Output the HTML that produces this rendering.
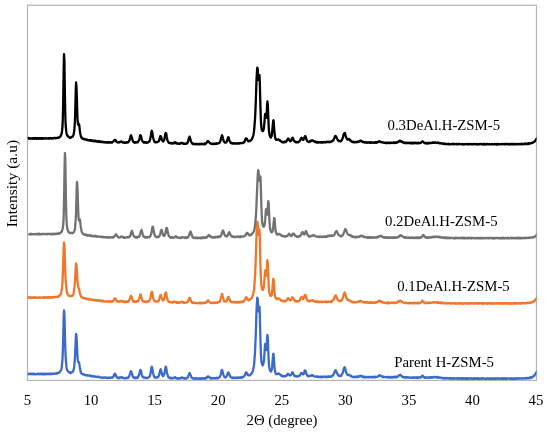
<!DOCTYPE html>
<html><head><meta charset="utf-8"><style>
html,body{margin:0;padding:0;background:#fff;}
svg{display:block;}
text{font-family:"Liberation Serif","Times New Roman",serif;font-size:14.8px;fill:#000;}
</style></head><body>
<svg width="550" height="433" viewBox="0 0 550 433">
<rect x="0" y="0" width="550" height="433" fill="#fff"/>
<defs><clipPath id="pa"><rect x="27.5" y="0" width="509" height="381"/></clipPath></defs>
<rect x="27.5" y="5.2" width="509" height="375.2" fill="none" stroke="#b5b5b5" stroke-width="1.25"/>
<g clip-path="url(#pa)">
<path d="M27.5 374.2 27.8 374.0 28.1 374.1 28.5 374.0 28.8 374.2 29.1 373.6 29.4 374.2 29.7 374.1 30.0 374.2 30.4 373.7 30.7 374.2 31.0 374.2 31.3 373.8 31.6 373.7 31.9 374.2 32.3 373.6 32.6 373.8 32.9 374.1 33.2 373.7 33.5 373.7 33.9 374.3 34.2 373.8 34.5 374.3 34.8 374.0 35.1 374.1 35.4 374.3 35.8 374.1 36.1 374.0 36.4 374.3 36.7 374.1 37.0 373.9 37.4 373.7 37.7 373.9 38.0 374.2 38.3 374.1 38.6 373.7 38.9 374.0 39.3 373.9 39.6 374.3 39.9 373.7 40.2 373.7 40.5 373.7 40.8 374.0 41.2 373.9 41.5 374.2 41.8 373.6 42.1 374.2 42.4 373.6 42.8 374.2 43.1 373.8 43.4 374.2 43.7 374.0 44.0 373.9 44.3 374.3 44.7 373.8 45.0 373.7 45.3 374.2 45.6 373.9 45.9 374.2 46.3 374.2 46.6 373.8 46.9 373.6 47.2 374.0 47.5 374.0 47.8 373.7 48.2 374.0 48.5 373.6 48.8 373.9 49.1 374.0 49.4 374.1 49.7 373.8 50.1 374.0 50.4 374.2 50.7 373.7 51.0 373.5 51.3 373.7 51.7 373.8 52.0 373.8 52.3 374.1 52.6 373.9 52.9 373.9 53.2 373.7 53.6 373.7 53.9 373.9 54.2 373.8 54.5 373.6 54.8 373.5 55.1 373.3 55.5 373.6 55.8 373.6 56.1 373.4 56.4 373.6 56.7 373.1 57.1 373.6 57.4 373.1 57.7 372.9 58.0 373.1 58.3 373.0 58.6 372.7 59.0 372.5 59.3 372.5 59.6 372.5 59.9 371.5 60.2 371.1 60.6 370.7 60.9 370.4 61.2 369.6 61.5 368.5 61.8 366.6 62.1 363.4 62.5 359.1 62.8 351.8 63.1 342.6 63.4 330.1 63.7 317.4 64.0 310.5 64.4 313.7 64.7 324.9 65.0 337.4 65.3 348.4 65.6 356.4 66.0 361.7 66.3 365.4 66.6 367.9 66.9 369.3 67.2 370.0 67.5 370.7 67.9 371.2 68.2 371.5 68.5 371.7 68.8 372.1 69.1 372.3 69.5 372.7 69.8 372.8 70.1 372.4 70.4 373.0 70.7 373.0 71.0 372.4 71.4 372.8 71.7 372.4 72.0 372.2 72.3 372.2 72.6 371.9 72.9 371.4 73.3 371.1 73.6 369.7 73.9 368.7 74.2 366.4 74.5 363.2 74.9 358.8 75.2 352.5 75.5 345.4 75.8 337.5 76.1 334.0 76.4 335.4 76.8 341.7 77.1 348.9 77.4 354.7 77.7 359.2 78.0 361.0 78.3 362.2 78.7 362.1 79.0 362.3 79.3 363.8 79.6 365.9 79.9 367.9 80.3 369.8 80.6 371.6 80.9 372.6 81.2 372.5 81.5 373.0 81.8 373.9 82.2 373.9 82.5 374.2 82.8 374.1 83.1 374.4 83.4 374.2 83.8 374.6 84.1 374.5 84.4 374.9 84.7 374.8 85.0 374.9 85.3 375.3 85.7 375.2 86.0 375.2 86.3 375.4 86.6 375.3 86.9 375.0 87.2 375.6 87.6 375.2 87.9 375.5 88.2 375.7 88.5 375.7 88.8 375.6 89.2 375.5 89.5 375.7 89.8 375.7 90.1 375.5 90.4 375.7 90.7 376.3 91.1 375.7 91.4 376.0 91.7 376.2 92.0 376.2 92.3 376.5 92.7 376.5 93.0 376.6 93.3 376.1 93.6 376.3 93.9 376.5 94.2 376.4 94.6 376.4 94.9 376.4 95.2 376.7 95.5 376.8 95.8 376.6 96.1 376.7 96.5 376.8 96.8 376.9 97.1 377.0 97.4 376.8 97.7 376.7 98.1 376.9 98.4 376.8 98.7 376.7 99.0 376.7 99.3 377.0 99.6 377.2 100.0 377.4 100.3 377.5 100.6 377.3 100.9 377.4 101.2 377.6 101.6 377.6 101.9 377.7 102.2 377.4 102.5 377.7 102.8 377.9 103.1 377.7 103.5 377.6 103.8 377.5 104.1 377.4 104.4 377.7 104.7 377.6 105.0 377.5 105.4 377.4 105.7 377.7 106.0 377.4 106.3 377.6 106.6 377.8 107.0 378.1 107.3 378.0 107.6 377.6 107.9 377.7 108.2 377.7 108.5 377.8 108.9 377.9 109.2 377.5 109.5 377.7 109.8 378.0 110.1 377.9 110.4 377.7 110.8 377.8 111.1 377.6 111.4 377.6 111.7 377.7 112.0 377.3 112.4 377.5 112.7 377.5 113.0 377.0 113.3 376.7 113.6 376.0 113.9 375.6 114.3 374.4 114.6 373.9 114.9 373.6 115.2 374.2 115.5 374.5 115.9 375.1 116.2 376.3 116.5 376.9 116.8 377.2 117.1 377.1 117.4 377.5 117.8 378.1 118.1 378.1 118.4 377.6 118.7 377.8 119.0 377.7 119.3 378.1 119.7 377.4 120.0 377.8 120.3 377.5 120.6 377.4 120.9 377.4 121.3 377.1 121.6 377.2 121.9 377.7 122.2 377.5 122.5 377.5 122.8 377.9 123.2 377.7 123.5 378.0 123.8 378.0 124.1 378.3 124.4 378.4 124.8 378.2 125.1 378.3 125.4 378.1 125.7 377.9 126.0 377.8 126.3 378.0 126.7 378.1 127.0 378.2 127.3 377.7 127.6 378.0 127.9 377.9 128.2 377.7 128.6 377.1 128.9 376.6 129.2 376.4 129.5 375.3 129.8 374.4 130.2 373.4 130.5 372.3 130.8 371.2 131.1 371.6 131.4 372.0 131.7 372.9 132.1 374.0 132.4 375.3 132.7 375.9 133.0 377.1 133.3 377.1 133.6 377.6 134.0 377.7 134.3 377.8 134.6 377.4 134.9 378.0 135.2 378.0 135.6 377.5 135.9 378.0 136.2 377.5 136.5 377.5 136.8 377.7 137.1 377.9 137.5 377.4 137.8 377.7 138.1 376.9 138.4 376.4 138.7 375.6 139.1 374.9 139.4 374.1 139.7 372.2 140.0 371.0 140.3 369.9 140.6 369.9 141.0 370.7 141.3 372.2 141.6 373.8 141.9 375.0 142.2 376.0 142.5 376.7 142.9 377.0 143.2 377.2 143.5 377.2 143.8 377.6 144.1 377.4 144.5 377.8 144.8 377.8 145.1 377.8 145.4 377.6 145.7 378.0 146.0 377.7 146.4 377.8 146.7 377.9 147.0 377.9 147.3 378.1 147.6 377.9 148.0 377.5 148.3 377.5 148.6 377.6 148.9 377.1 149.2 376.9 149.5 376.5 149.9 375.7 150.2 374.9 150.5 373.3 150.8 371.5 151.1 369.8 151.4 367.4 151.8 366.8 152.1 367.1 152.4 369.0 152.7 370.9 153.0 372.7 153.4 374.2 153.7 375.6 154.0 376.2 154.3 376.3 154.6 377.3 154.9 377.6 155.3 377.7 155.6 377.7 155.9 377.3 156.2 377.5 156.5 377.3 156.8 377.3 157.2 377.6 157.5 377.5 157.8 377.4 158.1 376.6 158.4 376.2 158.8 376.0 159.1 374.7 159.4 374.0 159.7 372.3 160.0 371.2 160.3 370.0 160.7 369.3 161.0 370.4 161.3 371.1 161.6 372.7 161.9 373.7 162.3 375.1 162.6 375.5 162.9 376.0 163.2 376.2 163.5 375.7 163.8 375.0 164.2 374.3 164.5 372.7 164.8 371.4 165.1 369.5 165.4 367.9 165.7 366.6 166.1 367.2 166.4 368.9 166.7 371.1 167.0 372.9 167.3 374.0 167.7 375.2 168.0 376.6 168.3 376.8 168.6 377.3 168.9 377.2 169.2 377.6 169.6 378.1 169.9 378.2 170.2 378.2 170.5 378.4 170.8 377.7 171.2 377.8 171.5 378.0 171.8 378.3 172.1 378.0 172.4 377.9 172.7 378.4 173.1 377.8 173.4 377.9 173.7 377.8 174.0 377.9 174.3 377.9 174.6 377.7 175.0 377.1 175.3 377.7 175.6 377.3 175.9 378.1 176.2 378.3 176.6 378.3 176.9 378.1 177.2 378.5 177.5 378.3 177.8 378.6 178.1 378.7 178.5 378.5 178.8 378.2 179.1 378.4 179.4 378.6 179.7 378.1 180.1 378.2 180.4 378.4 180.7 378.0 181.0 378.0 181.3 377.6 181.6 377.7 182.0 377.3 182.3 377.4 182.6 377.9 182.9 378.0 183.2 378.2 183.5 378.1 183.9 378.5 184.2 378.3 184.5 378.1 184.8 378.3 185.1 378.6 185.5 378.3 185.8 378.5 186.1 378.0 186.4 378.3 186.7 378.1 187.0 378.1 187.4 377.6 187.7 377.6 188.0 376.6 188.3 375.9 188.6 375.3 188.9 374.3 189.3 373.5 189.6 373.0 189.9 373.6 190.2 374.5 190.5 375.2 190.9 375.7 191.2 376.4 191.5 377.5 191.8 377.5 192.1 378.0 192.4 378.1 192.8 378.3 193.1 378.6 193.4 378.4 193.7 378.5 194.0 378.7 194.4 378.7 194.7 378.7 195.0 378.2 195.3 378.6 195.6 378.7 195.9 378.3 196.3 378.2 196.6 378.6 196.9 378.5 197.2 378.9 197.5 378.9 197.8 378.6 198.2 378.4 198.5 378.3 198.8 378.6 199.1 378.6 199.4 378.4 199.8 378.8 200.1 378.5 200.4 378.6 200.7 378.8 201.0 378.4 201.3 378.8 201.7 378.2 202.0 378.7 202.3 378.7 202.6 378.5 202.9 378.6 203.3 378.4 203.6 378.6 203.9 378.2 204.2 378.1 204.5 378.6 204.8 378.5 205.2 378.6 205.5 378.5 205.8 378.0 206.1 377.8 206.4 378.2 206.7 377.3 207.1 377.6 207.4 376.7 207.7 376.9 208.0 376.3 208.3 376.3 208.7 376.6 209.0 377.1 209.3 377.2 209.6 377.6 209.9 377.8 210.2 378.2 210.6 378.4 210.9 377.9 211.2 378.3 211.5 378.5 211.8 378.0 212.1 378.5 212.5 378.1 212.8 378.0 213.1 378.1 213.4 378.2 213.7 378.3 214.1 378.1 214.4 378.1 214.7 378.4 215.0 378.0 215.3 378.1 215.6 378.5 216.0 378.4 216.3 378.3 216.6 377.8 216.9 378.0 217.2 378.4 217.6 378.2 217.9 377.9 218.2 378.0 218.5 377.8 218.8 377.5 219.1 377.2 219.5 377.3 219.8 376.9 220.1 376.0 220.4 375.4 220.7 374.5 221.0 373.4 221.4 371.6 221.7 370.4 222.0 369.9 222.3 370.5 222.6 371.9 223.0 372.8 223.3 374.6 223.6 375.4 223.9 376.0 224.2 376.3 224.5 377.2 224.9 377.3 225.2 377.4 225.5 377.4 225.8 377.3 226.1 376.9 226.5 376.5 226.8 376.0 227.1 375.0 227.4 374.0 227.7 373.5 228.0 372.8 228.4 372.4 228.7 372.7 229.0 373.6 229.3 374.2 229.6 375.7 229.9 375.8 230.3 376.3 230.6 377.2 230.9 377.2 231.2 377.3 231.5 377.3 231.9 377.8 232.2 377.4 232.5 378.1 232.8 377.6 233.1 377.8 233.4 377.6 233.8 377.6 234.1 378.0 234.4 377.8 234.7 377.8 235.0 377.7 235.3 377.9 235.7 377.7 236.0 377.9 236.3 377.8 236.6 377.5 236.9 377.5 237.3 378.1 237.6 377.6 237.9 377.7 238.2 377.7 238.5 377.5 238.8 377.4 239.2 377.3 239.5 377.8 239.8 377.7 240.1 377.8 240.4 377.6 240.8 377.2 241.1 377.2 241.4 377.7 241.7 377.3 242.0 377.6 242.3 377.0 242.7 377.0 243.0 377.1 243.3 377.0 243.6 376.6 243.9 376.7 244.2 375.9 244.6 375.4 244.9 375.3 245.2 374.3 245.5 373.2 245.8 372.4 246.2 372.3 246.5 372.3 246.8 373.3 247.1 373.5 247.4 374.5 247.7 375.0 248.1 375.2 248.4 375.0 248.7 375.3 249.0 375.4 249.3 375.4 249.7 375.1 250.0 375.3 250.3 374.6 250.6 374.7 250.9 374.2 251.2 374.1 251.6 373.3 251.9 373.1 252.2 372.6 252.5 371.7 252.8 371.2 253.1 370.1 253.5 368.1 253.8 366.4 254.1 364.3 254.4 360.4 254.7 356.4 255.1 351.1 255.4 343.8 255.7 336.3 256.0 327.3 256.3 317.8 256.6 308.9 257.0 301.7 257.3 297.6 257.6 298.5 257.9 301.8 258.2 307.1 258.5 311.1 258.9 311.7 259.2 308.6 259.5 306.8 259.8 313.5 260.1 327.3 260.5 341.5 260.8 351.0 261.1 357.1 261.4 360.8 261.7 363.0 262.0 363.8 262.4 364.8 262.7 365.3 263.0 364.8 263.3 363.9 263.6 362.8 264.0 359.9 264.3 356.2 264.6 351.2 264.9 346.5 265.2 343.8 265.5 345.1 265.9 347.8 266.2 350.1 266.5 348.6 266.8 344.5 267.1 338.4 267.4 334.9 267.8 337.9 268.1 345.5 268.4 353.7 268.7 360.4 269.0 365.1 269.4 368.2 269.7 369.3 270.0 370.2 270.3 371.0 270.6 371.3 270.9 371.5 271.3 371.2 271.6 369.9 271.9 368.9 272.2 366.2 272.5 362.0 272.9 357.6 273.2 354.2 273.5 353.7 273.8 357.1 274.1 361.8 274.4 366.4 274.8 369.4 275.1 371.6 275.4 372.6 275.7 373.3 276.0 374.2 276.3 373.8 276.7 374.0 277.0 374.1 277.3 374.0 277.6 374.0 277.9 373.6 278.3 373.5 278.6 373.9 278.9 373.5 279.2 373.8 279.5 374.2 279.8 374.5 280.2 374.5 280.5 374.9 280.8 375.4 281.1 375.2 281.4 375.5 281.8 376.1 282.1 375.6 282.4 375.8 282.7 376.2 283.0 376.5 283.3 376.1 283.7 376.4 284.0 376.1 284.3 376.1 284.6 376.1 284.9 376.0 285.2 376.4 285.6 376.0 285.9 375.9 286.2 375.9 286.5 375.9 286.8 374.9 287.2 375.0 287.5 374.0 287.8 373.7 288.1 373.9 288.4 373.9 288.7 374.6 289.1 374.6 289.4 375.2 289.7 375.2 290.0 375.6 290.3 375.6 290.6 375.4 291.0 375.0 291.3 374.3 291.6 373.7 291.9 372.8 292.2 372.6 292.6 372.4 292.9 372.6 293.2 373.1 293.5 374.3 293.8 374.7 294.1 375.5 294.5 375.4 294.8 376.2 295.1 376.1 295.4 376.2 295.7 376.0 296.1 376.1 296.4 376.6 296.7 376.7 297.0 376.3 297.3 376.2 297.6 376.4 298.0 376.3 298.3 376.1 298.6 376.1 298.9 376.2 299.2 375.7 299.5 375.6 299.9 375.6 300.2 374.7 300.5 374.0 300.8 373.5 301.1 373.1 301.5 372.8 301.8 372.8 302.1 373.2 302.4 374.1 302.7 374.1 303.0 374.4 303.4 374.3 303.7 373.9 304.0 373.1 304.3 372.0 304.6 370.7 305.0 370.4 305.3 370.4 305.6 371.0 305.9 372.2 306.2 372.8 306.5 374.1 306.9 374.8 307.2 375.3 307.5 375.7 307.8 376.2 308.1 375.9 308.4 376.0 308.8 375.9 309.1 376.2 309.4 376.3 309.7 376.0 310.0 376.1 310.4 376.0 310.7 375.5 311.0 375.9 311.3 375.6 311.6 375.3 311.9 375.5 312.3 375.1 312.6 375.2 312.9 375.7 313.2 375.6 313.5 376.0 313.8 376.1 314.2 376.3 314.5 376.4 314.8 376.6 315.1 376.6 315.4 376.7 315.8 376.7 316.1 376.4 316.4 376.6 316.7 376.6 317.0 376.5 317.3 376.9 317.7 376.4 318.0 376.9 318.3 377.0 318.6 376.7 318.9 376.6 319.3 377.0 319.6 377.0 319.9 376.9 320.2 376.6 320.5 376.6 320.8 377.2 321.2 376.8 321.5 377.0 321.8 376.6 322.1 377.0 322.4 377.1 322.7 377.0 323.1 376.8 323.4 377.0 323.7 376.7 324.0 376.5 324.3 376.6 324.7 376.5 325.0 376.8 325.3 376.6 325.6 377.2 325.9 377.0 326.2 376.7 326.6 376.6 326.9 377.0 327.2 377.1 327.5 377.0 327.8 376.5 328.2 376.9 328.5 376.7 328.8 376.9 329.1 376.4 329.4 376.8 329.7 376.6 330.1 376.7 330.4 376.4 330.7 376.8 331.0 376.2 331.3 376.6 331.6 376.4 332.0 375.8 332.3 375.7 332.6 375.8 332.9 375.4 333.2 374.9 333.6 374.0 333.9 373.6 334.2 373.2 334.5 371.8 334.8 371.6 335.1 370.9 335.5 370.2 335.8 370.3 336.1 370.9 336.4 371.6 336.7 372.4 337.0 373.2 337.4 374.0 337.7 374.2 338.0 375.0 338.3 375.0 338.6 375.8 339.0 375.7 339.3 376.0 339.6 375.7 339.9 375.7 340.2 376.1 340.5 376.1 340.9 375.6 341.2 375.8 341.5 375.2 341.8 374.4 342.1 374.4 342.5 373.5 342.8 372.6 343.1 371.9 343.4 370.3 343.7 368.9 344.0 368.0 344.4 367.5 344.7 367.3 345.0 367.8 345.3 369.2 345.6 370.2 345.9 371.6 346.3 372.4 346.6 373.4 346.9 374.0 347.2 374.5 347.5 374.7 347.9 375.0 348.2 374.8 348.5 374.8 348.8 374.6 349.1 374.9 349.4 374.8 349.8 375.6 350.1 375.7 350.4 375.5 350.7 375.7 351.0 376.3 351.4 376.4 351.7 376.2 352.0 376.5 352.3 376.6 352.6 377.0 352.9 377.0 353.3 376.8 353.6 376.8 353.9 377.0 354.2 376.7 354.5 376.8 354.8 377.0 355.2 377.2 355.5 376.7 355.8 376.7 356.1 376.7 356.4 376.7 356.8 377.1 357.1 376.9 357.4 376.5 357.7 377.0 358.0 377.0 358.3 376.9 358.7 376.8 359.0 376.1 359.3 376.3 359.6 376.2 359.9 376.2 360.2 375.8 360.6 376.0 360.9 375.7 361.2 376.0 361.5 376.2 361.8 376.5 362.2 376.8 362.5 376.3 362.8 377.0 363.1 376.5 363.4 376.6 363.7 377.2 364.1 376.8 364.4 377.1 364.7 377.3 365.0 376.9 365.3 376.9 365.7 377.3 366.0 377.4 366.3 377.1 366.6 376.8 366.9 377.1 367.2 377.1 367.6 377.4 367.9 377.2 368.2 377.2 368.5 377.1 368.8 377.4 369.1 376.8 369.5 377.2 369.8 377.2 370.1 377.1 370.4 377.0 370.7 377.2 371.1 377.1 371.4 377.4 371.7 377.2 372.0 376.8 372.3 377.4 372.6 376.9 373.0 377.3 373.3 377.0 373.6 377.4 373.9 376.8 374.2 376.9 374.6 377.1 374.9 377.2 375.2 376.7 375.5 377.3 375.8 377.2 376.1 376.8 376.5 376.9 376.8 376.8 377.1 376.6 377.4 376.7 377.7 376.3 378.0 376.4 378.4 376.2 378.7 376.1 379.0 375.8 379.3 375.1 379.6 375.1 380.0 375.7 380.3 375.6 380.6 375.6 380.9 375.9 381.2 376.1 381.5 376.1 381.9 376.4 382.2 376.7 382.5 376.4 382.8 376.5 383.1 377.3 383.4 376.8 383.8 377.0 384.1 377.0 384.4 376.9 384.7 377.2 385.0 377.2 385.4 377.2 385.7 377.1 386.0 376.9 386.3 377.1 386.6 377.3 386.9 377.1 387.3 376.9 387.6 377.2 387.9 376.9 388.2 377.3 388.5 377.0 388.9 377.5 389.2 377.5 389.5 377.0 389.8 377.1 390.1 377.5 390.4 377.4 390.8 377.2 391.1 377.5 391.4 376.9 391.7 377.3 392.0 377.5 392.3 377.3 392.7 377.0 393.0 377.3 393.3 376.9 393.6 376.9 393.9 377.3 394.3 376.9 394.6 377.2 394.9 377.0 395.2 376.8 395.5 377.3 395.8 377.3 396.2 376.8 396.5 377.3 396.8 376.8 397.1 376.7 397.4 376.8 397.8 376.4 398.1 376.5 398.4 375.7 398.7 375.5 399.0 375.4 399.3 375.3 399.7 375.2 400.0 375.3 400.3 374.7 400.6 375.3 400.9 375.3 401.2 375.7 401.6 375.9 401.9 376.3 402.2 376.7 402.5 376.6 402.8 377.1 403.2 376.9 403.5 377.3 403.8 377.3 404.1 377.4 404.4 377.2 404.7 377.4 405.1 377.6 405.4 377.1 405.7 377.4 406.0 377.5 406.3 377.2 406.7 377.7 407.0 377.2 407.3 377.4 407.6 377.2 407.9 377.4 408.2 377.4 408.6 377.2 408.9 377.5 409.2 377.7 409.5 377.3 409.8 377.4 410.1 377.3 410.5 377.6 410.8 377.7 411.1 377.7 411.4 377.6 411.7 377.9 412.1 377.3 412.4 377.4 412.7 377.3 413.0 377.8 413.3 377.9 413.6 377.7 414.0 377.5 414.3 377.3 414.6 377.6 414.9 377.7 415.2 377.5 415.5 377.7 415.9 377.8 416.2 377.8 416.5 377.3 416.8 377.8 417.1 377.6 417.5 378.0 417.8 377.4 418.1 378.0 418.4 377.7 418.7 377.4 419.0 377.5 419.4 377.3 419.7 377.3 420.0 377.2 420.3 377.6 420.6 377.1 421.0 377.2 421.3 377.1 421.6 376.5 421.9 376.1 422.2 375.6 422.5 375.7 422.9 375.8 423.2 376.3 423.5 376.6 423.8 377.2 424.1 376.9 424.4 377.7 424.8 377.5 425.1 377.6 425.4 377.9 425.7 377.9 426.0 377.5 426.4 377.7 426.7 377.4 427.0 377.5 427.3 377.4 427.6 377.8 427.9 377.6 428.3 377.4 428.6 377.6 428.9 377.4 429.2 377.7 429.5 377.3 429.9 377.4 430.2 377.8 430.5 377.6 430.8 377.1 431.1 377.2 431.4 377.7 431.8 377.7 432.1 377.1 432.4 377.6 432.7 377.5 433.0 377.5 433.3 377.0 433.7 377.3 434.0 376.9 434.3 377.0 434.6 377.1 434.9 376.9 435.3 377.4 435.6 377.2 435.9 377.3 436.2 377.1 436.5 377.5 436.8 376.9 437.2 377.3 437.5 377.0 437.8 377.1 438.1 377.3 438.4 377.8 438.7 377.8 439.1 377.3 439.4 377.3 439.7 377.5 440.0 377.6 440.3 377.6 440.7 377.6 441.0 377.7 441.3 378.0 441.6 377.7 441.9 378.1 442.2 378.1 442.6 378.3 442.9 378.3 443.2 378.3 443.5 378.3 443.8 378.0 444.2 378.4 444.5 378.0 444.8 378.5 445.1 378.3 445.4 378.3 445.7 378.2 446.1 378.4 446.4 377.9 446.7 378.1 447.0 378.0 447.3 378.4 447.6 378.4 448.0 378.5 448.3 378.5 448.6 378.4 448.9 378.3 449.2 378.1 449.6 378.1 449.9 378.5 450.2 378.7 450.5 378.2 450.8 378.3 451.1 378.6 451.5 378.1 451.8 378.7 452.1 378.7 452.4 378.2 452.7 378.4 453.1 378.5 453.4 378.1 453.7 378.1 454.0 378.8 454.3 378.2 454.6 378.6 455.0 378.6 455.3 378.6 455.6 378.7 455.9 378.3 456.2 378.4 456.5 378.7 456.9 378.5 457.2 378.6 457.5 378.3 457.8 378.7 458.1 378.6 458.5 378.8 458.8 378.3 459.1 378.5 459.4 378.8 459.7 378.5 460.0 378.6 460.4 378.7 460.7 378.2 461.0 378.3 461.3 378.5 461.6 378.3 461.9 378.8 462.3 378.8 462.6 378.2 462.9 378.8 463.2 378.2 463.5 378.6 463.9 378.4 464.2 378.6 464.5 378.6 464.8 378.2 465.1 378.4 465.4 378.8 465.8 378.2 466.1 378.4 466.4 378.7 466.7 378.5 467.0 378.8 467.4 378.2 467.7 378.8 468.0 378.4 468.3 378.4 468.6 378.2 468.9 378.8 469.3 378.4 469.6 378.6 469.9 378.4 470.2 378.6 470.5 378.5 470.8 378.6 471.2 378.3 471.5 378.2 471.8 378.8 472.1 378.8 472.4 378.8 472.8 378.4 473.1 378.6 473.4 378.9 473.7 378.9 474.0 378.2 474.3 378.6 474.7 378.3 475.0 378.4 475.3 378.4 475.6 378.8 475.9 378.2 476.3 378.4 476.6 378.5 476.9 378.5 477.2 378.4 477.5 378.8 477.8 378.3 478.2 378.8 478.5 378.2 478.8 378.3 479.1 378.7 479.4 378.8 479.7 378.6 480.1 378.7 480.4 378.3 480.7 378.3 481.0 378.5 481.3 378.8 481.7 378.9 482.0 378.2 482.3 378.8 482.6 378.5 482.9 378.3 483.2 378.5 483.6 378.4 483.9 378.6 484.2 378.5 484.5 378.6 484.8 378.7 485.1 378.8 485.5 378.8 485.8 378.9 486.1 378.6 486.4 378.7 486.7 378.9 487.1 378.6 487.4 378.3 487.7 378.6 488.0 378.6 488.3 378.3 488.6 378.3 489.0 378.6 489.3 378.9 489.6 378.6 489.9 378.5 490.2 378.9 490.6 378.5 490.9 378.3 491.2 378.8 491.5 378.8 491.8 378.6 492.1 378.5 492.5 378.4 492.8 378.4 493.1 378.3 493.4 378.9 493.7 378.5 494.0 378.4 494.4 378.4 494.7 378.3 495.0 378.7 495.3 378.3 495.6 378.8 496.0 378.6 496.3 378.7 496.6 378.5 496.9 378.7 497.2 378.4 497.5 378.7 497.9 378.6 498.2 378.3 498.5 378.5 498.8 378.6 499.1 378.8 499.5 378.6 499.8 378.5 500.1 378.4 500.4 378.7 500.7 378.9 501.0 378.9 501.4 378.3 501.7 378.6 502.0 378.9 502.3 378.6 502.6 378.4 502.9 378.3 503.3 378.3 503.6 378.9 503.9 378.3 504.2 378.6 504.5 378.2 504.9 378.7 505.2 378.8 505.5 378.4 505.8 378.4 506.1 378.9 506.4 378.5 506.8 378.9 507.1 378.4 507.4 378.7 507.7 378.3 508.0 378.3 508.4 378.4 508.7 378.4 509.0 378.3 509.3 378.4 509.6 378.8 509.9 378.8 510.3 378.5 510.6 378.7 510.9 378.8 511.2 378.5 511.5 378.4 511.8 378.7 512.2 378.4 512.5 378.8 512.8 378.9 513.1 378.5 513.4 378.6 513.8 378.9 514.1 378.8 514.4 378.3 514.7 378.3 515.0 378.7 515.3 378.3 515.7 378.6 516.0 378.7 516.3 378.8 516.6 378.7 516.9 378.5 517.2 378.2 517.6 378.3 517.9 378.7 518.2 378.6 518.5 378.2 518.8 378.5 519.2 378.7 519.5 378.5 519.8 378.7 520.1 378.7 520.4 378.3 520.7 378.4 521.1 378.4 521.4 378.4 521.7 378.5 522.0 378.5 522.3 378.7 522.7 378.4 523.0 378.4 523.3 378.5 523.6 378.4 523.9 378.2 524.2 378.4 524.6 378.4 524.9 378.4 525.2 378.6 525.5 378.3 525.8 378.0 526.1 378.0 526.5 378.0 526.8 378.4 527.1 378.0 527.4 378.3 527.7 378.2 528.1 378.1 528.4 378.2 528.7 378.1 529.0 378.3 529.3 377.8 529.6 377.5 530.0 378.1 530.3 377.4 530.6 377.8 530.9 377.3 531.2 377.7 531.6 377.2 531.9 377.3 532.2 377.4 532.5 376.8 532.8 376.6 533.1 376.3 533.5 376.2 533.8 376.4 534.1 375.8 534.4 375.3 534.7 374.9 535.0 374.6 535.4 374.1 535.7 373.6 536.0 373.1 536.3 372.4 536.6 371.8 537.0 371.5 537.3 370.7" fill="none" stroke="#3b6acb" stroke-width="2.3" stroke-linejoin="round"/>
<path d="M27.5 297.9 27.8 297.3 28.1 297.6 28.5 297.3 28.8 297.6 29.1 297.5 29.4 297.7 29.7 297.8 30.0 297.5 30.4 297.8 30.7 297.7 31.0 297.3 31.3 297.8 31.6 297.8 31.9 297.8 32.3 297.8 32.6 297.9 32.9 297.6 33.2 297.3 33.5 297.9 33.9 297.2 34.2 297.4 34.5 297.6 34.8 297.7 35.1 297.9 35.4 297.2 35.8 297.5 36.1 297.2 36.4 297.6 36.7 297.8 37.0 297.7 37.4 297.8 37.7 297.9 38.0 297.9 38.3 297.7 38.6 297.4 38.9 297.3 39.3 297.4 39.6 297.6 39.9 297.9 40.2 297.4 40.5 297.7 40.8 297.6 41.2 297.6 41.5 297.5 41.8 297.6 42.1 297.4 42.4 297.6 42.8 297.6 43.1 297.5 43.4 297.3 43.7 297.7 44.0 297.8 44.3 297.5 44.7 297.8 45.0 297.3 45.3 297.5 45.6 297.6 45.9 297.4 46.3 297.5 46.6 297.4 46.9 297.7 47.2 297.8 47.5 297.2 47.8 297.5 48.2 297.4 48.5 297.2 48.8 297.8 49.1 297.7 49.4 297.2 49.7 297.1 50.1 297.4 50.4 297.7 50.7 297.6 51.0 297.1 51.3 297.6 51.7 297.4 52.0 297.6 52.3 297.7 52.6 297.1 52.9 297.1 53.2 297.5 53.6 297.3 53.9 297.2 54.2 297.4 54.5 297.4 54.8 297.1 55.1 296.9 55.5 296.9 55.8 296.9 56.1 296.9 56.4 296.9 56.7 297.0 57.1 296.9 57.4 296.6 57.7 296.6 58.0 296.8 58.3 296.3 58.6 296.6 59.0 295.7 59.3 296.0 59.6 295.6 59.9 295.4 60.2 294.9 60.6 294.3 60.9 293.7 61.2 292.4 61.5 291.2 61.8 289.1 62.1 286.3 62.5 281.7 62.8 274.8 63.1 266.4 63.4 256.6 63.7 247.5 64.0 242.4 64.4 244.6 64.7 252.5 65.0 262.4 65.3 271.9 65.6 279.3 66.0 284.2 66.3 288.0 66.6 290.1 66.9 292.1 67.2 293.1 67.5 294.1 67.9 294.8 68.2 294.8 68.5 295.5 68.8 295.6 69.1 295.8 69.5 296.2 69.8 296.2 70.1 296.0 70.4 296.1 70.7 296.0 71.0 296.0 71.4 296.0 71.7 295.7 72.0 296.0 72.3 295.9 72.6 295.5 72.9 294.9 73.3 294.4 73.6 293.3 73.9 291.5 74.2 289.6 74.5 286.8 74.9 282.7 75.2 277.3 75.5 271.9 75.8 266.7 76.1 263.4 76.4 264.9 76.8 269.0 77.1 274.5 77.4 279.9 77.7 283.3 78.0 285.8 78.3 287.1 78.7 288.0 79.0 288.5 79.3 290.1 79.6 291.9 79.9 293.3 80.3 294.5 80.6 295.4 80.9 296.3 81.2 296.4 81.5 297.4 81.8 297.4 82.2 297.4 82.5 297.4 82.8 298.0 83.1 297.8 83.4 298.2 83.8 298.0 84.1 298.1 84.4 298.1 84.7 298.1 85.0 298.6 85.3 298.2 85.7 298.7 86.0 299.0 86.3 298.8 86.6 298.6 86.9 299.0 87.2 298.8 87.6 298.9 87.9 299.3 88.2 299.2 88.5 299.1 88.8 299.4 89.2 298.9 89.5 299.3 89.8 299.5 90.1 299.7 90.4 299.4 90.7 299.3 91.1 299.6 91.4 299.4 91.7 299.8 92.0 299.7 92.3 300.0 92.7 299.6 93.0 299.6 93.3 300.0 93.6 299.7 93.9 300.2 94.2 300.1 94.6 300.3 94.9 300.5 95.2 300.0 95.5 299.9 95.8 300.2 96.1 300.2 96.5 300.5 96.8 300.2 97.1 300.4 97.4 300.2 97.7 300.7 98.1 300.5 98.4 300.5 98.7 300.6 99.0 300.3 99.3 300.9 99.6 300.6 100.0 300.8 100.3 300.7 100.6 300.7 100.9 301.2 101.2 300.9 101.6 300.9 101.9 301.2 102.2 301.3 102.5 301.3 102.8 300.8 103.1 301.4 103.5 301.2 103.8 301.5 104.1 301.3 104.4 301.3 104.7 301.3 105.0 301.4 105.4 301.5 105.7 301.7 106.0 301.4 106.3 301.4 106.6 301.5 107.0 301.2 107.3 301.6 107.6 301.7 107.9 301.3 108.2 301.5 108.5 301.2 108.9 301.5 109.2 301.5 109.5 301.4 109.8 301.6 110.1 301.4 110.4 301.6 110.8 301.4 111.1 301.4 111.4 301.4 111.7 301.3 112.0 301.7 112.4 301.5 112.7 301.5 113.0 300.9 113.3 300.5 113.6 300.2 113.9 300.0 114.3 299.4 114.6 298.4 114.9 298.3 115.2 298.3 115.5 299.1 115.9 299.3 116.2 300.1 116.5 300.5 116.8 301.3 117.1 301.6 117.4 301.6 117.8 301.5 118.1 301.4 118.4 301.6 118.7 301.7 119.0 301.6 119.3 301.5 119.7 301.4 120.0 301.6 120.3 301.2 120.6 301.2 120.9 300.9 121.3 300.6 121.6 300.8 121.9 301.2 122.2 301.4 122.5 301.7 122.8 301.5 123.2 301.8 123.5 302.0 123.8 301.5 124.1 301.7 124.4 301.9 124.8 302.1 125.1 301.5 125.4 302.1 125.7 301.9 126.0 301.7 126.3 302.1 126.7 301.5 127.0 301.8 127.3 301.6 127.6 301.8 127.9 301.8 128.2 301.3 128.6 300.8 128.9 300.6 129.2 300.1 129.5 299.9 129.8 298.6 130.2 297.7 130.5 296.8 130.8 295.9 131.1 295.9 131.4 296.6 131.7 297.5 132.1 298.7 132.4 299.5 132.7 300.4 133.0 300.9 133.3 301.4 133.6 301.0 134.0 301.7 134.3 301.3 134.6 301.9 134.9 301.9 135.2 301.8 135.6 301.5 135.9 301.5 136.2 301.7 136.5 301.8 136.8 301.2 137.1 301.3 137.5 301.5 137.8 301.4 138.1 301.0 138.4 300.4 138.7 300.2 139.1 299.0 139.4 298.1 139.7 297.2 140.0 295.5 140.3 294.6 140.6 294.5 141.0 295.1 141.3 296.8 141.6 297.8 141.9 299.1 142.2 300.1 142.5 300.8 142.9 300.9 143.2 300.9 143.5 301.7 143.8 301.4 144.1 301.6 144.5 301.6 144.8 301.5 145.1 301.9 145.4 301.7 145.7 302.0 146.0 301.4 146.4 302.0 146.7 301.7 147.0 301.9 147.3 301.7 147.6 301.3 148.0 301.8 148.3 301.3 148.6 301.0 148.9 301.0 149.2 301.0 149.5 300.2 149.9 299.8 150.2 298.9 150.5 297.5 150.8 295.6 151.1 294.2 151.4 292.7 151.8 291.9 152.1 291.7 152.4 293.5 152.7 295.2 153.0 297.1 153.4 298.6 153.7 299.6 154.0 300.4 154.3 300.6 154.6 301.2 154.9 301.4 155.3 301.3 155.6 301.1 155.9 301.4 156.2 301.5 156.5 301.7 156.8 301.7 157.2 301.6 157.5 301.2 157.8 301.3 158.1 301.4 158.4 300.9 158.8 300.4 159.1 299.4 159.4 298.5 159.7 297.5 160.0 296.4 160.3 295.4 160.7 294.9 161.0 295.4 161.3 296.5 161.6 297.9 161.9 298.4 162.3 299.3 162.6 300.2 162.9 300.5 163.2 300.4 163.5 300.2 163.8 299.8 164.2 298.5 164.5 297.6 164.8 296.6 165.1 294.5 165.4 293.3 165.7 292.5 166.1 292.8 166.4 293.8 166.7 295.9 167.0 297.2 167.3 298.6 167.7 299.9 168.0 300.8 168.3 301.4 168.6 301.1 168.9 301.9 169.2 301.8 169.6 302.1 169.9 301.8 170.2 301.8 170.5 302.4 170.8 302.1 171.2 302.3 171.5 302.3 171.8 302.1 172.1 302.2 172.4 302.1 172.7 302.6 173.1 302.5 173.4 301.9 173.7 302.0 174.0 301.7 174.3 301.6 174.6 301.8 175.0 301.7 175.3 302.0 175.6 301.6 175.9 302.0 176.2 302.5 176.6 302.3 176.9 302.8 177.2 302.2 177.5 302.3 177.8 302.9 178.1 302.3 178.5 302.8 178.8 302.7 179.1 302.6 179.4 302.4 179.7 302.5 180.1 302.2 180.4 302.3 180.7 302.1 181.0 301.9 181.3 302.1 181.6 301.9 182.0 301.7 182.3 302.2 182.6 302.3 182.9 302.2 183.2 302.6 183.5 302.8 183.9 302.3 184.2 302.8 184.5 302.7 184.8 302.7 185.1 302.8 185.5 302.6 185.8 302.3 186.1 302.4 186.4 302.4 186.7 302.2 187.0 302.5 187.4 302.2 187.7 301.6 188.0 301.0 188.3 300.4 188.6 299.8 188.9 298.8 189.3 297.8 189.6 297.8 189.9 297.8 190.2 299.0 190.5 299.6 190.9 300.9 191.2 301.4 191.5 301.6 191.8 302.2 192.1 302.8 192.4 302.9 192.8 302.4 193.1 303.1 193.4 303.0 193.7 302.7 194.0 302.6 194.4 302.8 194.7 302.9 195.0 302.9 195.3 303.2 195.6 303.2 195.9 302.8 196.3 303.2 196.6 303.1 196.9 303.0 197.2 303.3 197.5 303.2 197.8 303.3 198.2 303.1 198.5 303.1 198.8 303.2 199.1 302.8 199.4 302.7 199.8 303.3 200.1 303.3 200.4 303.0 200.7 303.2 201.0 302.9 201.3 303.3 201.7 302.8 202.0 303.0 202.3 303.2 202.6 302.8 202.9 303.1 203.3 303.2 203.6 302.9 203.9 302.8 204.2 302.8 204.5 302.6 204.8 302.6 205.2 302.9 205.5 303.0 205.8 302.6 206.1 302.1 206.4 302.1 206.7 302.1 207.1 301.3 207.4 301.1 207.7 300.4 208.0 301.0 208.3 300.5 208.7 301.3 209.0 301.5 209.3 301.7 209.6 301.9 209.9 302.5 210.2 302.4 210.6 302.8 210.9 302.8 211.2 303.0 211.5 303.1 211.8 302.8 212.1 302.9 212.5 302.7 212.8 302.9 213.1 302.5 213.4 303.1 213.7 302.5 214.1 302.9 214.4 302.6 214.7 302.4 215.0 303.0 215.3 302.6 215.6 302.6 216.0 302.7 216.3 302.8 216.6 302.7 216.9 302.5 217.2 302.7 217.6 302.3 217.9 302.2 218.2 302.2 218.5 302.4 218.8 302.2 219.1 301.6 219.5 301.9 219.8 301.5 220.1 300.4 220.4 299.5 220.7 298.5 221.0 297.1 221.4 296.1 221.7 294.6 222.0 293.9 222.3 294.3 222.6 296.0 223.0 297.2 223.3 298.5 223.6 299.6 223.9 300.6 224.2 301.1 224.5 301.0 224.9 301.4 225.2 301.6 225.5 301.4 225.8 301.4 226.1 301.5 226.5 301.2 226.8 300.3 227.1 299.6 227.4 299.1 227.7 298.1 228.0 297.1 228.4 296.6 228.7 296.9 229.0 298.2 229.3 299.3 229.6 299.5 229.9 300.4 230.3 301.1 230.6 301.7 230.9 301.5 231.2 301.9 231.5 301.8 231.9 302.4 232.2 302.2 232.5 301.9 232.8 302.1 233.1 302.3 233.4 302.0 233.8 302.1 234.1 302.0 234.4 302.3 234.7 302.0 235.0 302.6 235.3 301.9 235.7 302.3 236.0 302.0 236.3 302.6 236.6 302.4 236.9 302.5 237.3 302.0 237.6 302.2 237.9 301.9 238.2 302.4 238.5 302.1 238.8 302.5 239.2 301.9 239.5 302.1 239.8 302.0 240.1 302.0 240.4 301.9 240.8 301.8 241.1 302.2 241.4 301.6 241.7 302.0 242.0 301.5 242.3 301.5 242.7 301.8 243.0 301.7 243.3 301.3 243.6 301.1 243.9 301.4 244.2 301.0 244.6 300.1 244.9 299.5 245.2 299.1 245.5 298.2 245.8 297.4 246.2 297.5 246.5 297.3 246.8 298.0 247.1 298.9 247.4 299.2 247.7 299.4 248.1 300.0 248.4 300.2 248.7 299.9 249.0 300.3 249.3 299.6 249.7 299.6 250.0 299.4 250.3 299.5 250.6 299.1 250.9 298.7 251.2 298.4 251.6 298.1 251.9 297.8 252.2 296.9 252.5 296.0 252.8 295.8 253.1 294.4 253.5 292.8 253.8 291.2 254.1 288.8 254.4 284.9 254.7 280.9 255.1 275.3 255.4 268.2 255.7 260.2 256.0 251.4 256.3 241.8 256.6 232.6 257.0 225.5 257.3 221.7 257.6 222.2 257.9 226.3 258.2 231.3 258.5 234.8 258.9 235.2 259.2 232.3 259.5 229.7 259.8 237.1 260.1 251.4 260.5 265.2 260.8 275.8 261.1 282.0 261.4 285.3 261.7 287.3 262.0 289.0 262.4 289.2 262.7 290.0 263.0 289.7 263.3 289.3 263.6 288.1 264.0 285.7 264.3 281.7 264.6 277.3 264.9 272.9 265.2 270.4 265.5 271.2 265.9 274.5 266.2 275.8 266.5 274.6 266.8 270.0 267.1 263.9 267.4 260.2 267.8 263.6 268.1 270.9 268.4 279.1 268.7 285.6 269.0 290.3 269.4 292.5 269.7 294.0 270.0 295.2 270.3 295.8 270.6 295.8 270.9 295.8 271.3 295.5 271.6 295.3 271.9 293.6 272.2 291.1 272.5 287.3 272.9 282.7 273.2 279.0 273.5 279.2 273.8 282.2 274.1 286.6 274.4 290.9 274.8 294.4 275.1 296.6 275.4 297.6 275.7 298.0 276.0 298.4 276.3 299.0 276.7 298.8 277.0 298.7 277.3 298.7 277.6 298.3 277.9 298.4 278.3 298.3 278.6 298.3 278.9 298.7 279.2 298.7 279.5 299.2 279.8 299.2 280.2 299.7 280.5 300.0 280.8 299.9 281.1 300.6 281.4 300.7 281.8 300.8 282.1 300.7 282.4 300.6 282.7 301.3 283.0 301.2 283.3 301.3 283.7 300.8 284.0 301.1 284.3 301.1 284.6 300.9 284.9 301.3 285.2 301.3 285.6 300.7 285.9 301.1 286.2 300.3 286.5 300.3 286.8 300.0 287.2 299.7 287.5 298.6 287.8 298.7 288.1 298.1 288.4 298.3 288.7 298.9 289.1 299.5 289.4 299.6 289.7 300.1 290.0 300.2 290.3 300.5 290.6 300.2 291.0 299.8 291.3 299.7 291.6 299.1 291.9 298.3 292.2 297.3 292.6 297.7 292.9 298.0 293.2 298.1 293.5 299.3 293.8 299.4 294.1 300.2 294.5 300.2 294.8 301.0 295.1 301.2 295.4 301.3 295.7 300.9 296.1 301.0 296.4 301.1 296.7 301.5 297.0 301.5 297.3 301.5 297.6 300.9 298.0 300.9 298.3 301.2 298.6 301.3 298.9 301.0 299.2 301.0 299.5 300.3 299.9 300.1 300.2 299.5 300.5 298.4 300.8 297.8 301.1 297.5 301.5 296.8 301.8 297.1 302.1 297.8 302.4 298.2 302.7 298.9 303.0 299.1 303.4 299.0 303.7 298.1 304.0 297.1 304.3 296.4 304.6 295.1 305.0 294.8 305.3 294.8 305.6 295.3 305.9 296.5 306.2 297.7 306.5 298.9 306.9 299.3 307.2 300.3 307.5 300.3 307.8 300.7 308.1 300.9 308.4 301.1 308.8 301.3 309.1 301.1 309.4 301.4 309.7 300.7 310.0 300.7 310.4 301.1 310.7 301.0 311.0 300.9 311.3 300.3 311.6 300.3 311.9 300.4 312.3 300.2 312.6 300.5 312.9 300.7 313.2 300.4 313.5 301.0 313.8 301.1 314.2 301.3 314.5 301.1 314.8 301.5 315.1 301.4 315.4 301.8 315.8 301.9 316.1 302.0 316.4 301.4 316.7 301.7 317.0 301.9 317.3 301.6 317.7 301.8 318.0 302.1 318.3 301.6 318.6 301.8 318.9 301.6 319.3 302.1 319.6 301.8 319.9 301.8 320.2 301.9 320.5 302.0 320.8 301.7 321.2 301.8 321.5 302.1 321.8 301.5 322.1 301.9 322.4 302.2 322.7 302.1 323.1 302.0 323.4 301.9 323.7 301.8 324.0 301.8 324.3 301.8 324.7 301.7 325.0 301.7 325.3 301.8 325.6 302.0 325.9 301.5 326.2 302.1 326.6 302.2 326.9 301.7 327.2 301.9 327.5 302.1 327.8 302.0 328.2 301.5 328.5 301.7 328.8 302.0 329.1 301.6 329.4 301.8 329.7 301.8 330.1 301.9 330.4 302.0 330.7 301.4 331.0 301.5 331.3 301.3 331.6 301.7 332.0 301.5 332.3 300.8 332.6 301.0 332.9 300.8 333.2 299.8 333.6 299.4 333.9 298.6 334.2 298.2 334.5 297.2 334.8 296.3 335.1 295.7 335.5 295.7 335.8 295.4 336.1 296.3 336.4 296.7 336.7 297.7 337.0 298.1 337.4 299.4 337.7 299.7 338.0 299.9 338.3 300.3 338.6 300.7 339.0 300.9 339.3 301.1 339.6 301.2 339.9 301.0 340.2 301.1 340.5 300.6 340.9 300.9 341.2 300.5 341.5 300.6 341.8 299.8 342.1 299.6 342.5 298.9 342.8 297.7 343.1 296.4 343.4 295.6 343.7 294.6 344.0 293.4 344.4 293.0 344.7 292.5 345.0 293.5 345.3 293.8 345.6 295.2 345.9 296.4 346.3 297.6 346.6 298.2 346.9 298.7 347.2 299.7 347.5 299.6 347.9 300.1 348.2 300.0 348.5 300.3 348.8 300.2 349.1 300.4 349.4 300.1 349.8 300.8 350.1 301.0 350.4 301.0 350.7 301.2 351.0 301.5 351.4 301.3 351.7 301.6 352.0 301.7 352.3 302.2 352.6 302.3 352.9 302.1 353.3 302.3 353.6 301.8 353.9 301.8 354.2 301.8 354.5 302.0 354.8 302.5 355.2 302.4 355.5 302.5 355.8 302.5 356.1 302.2 356.4 302.1 356.8 302.0 357.1 302.1 357.4 302.1 357.7 302.0 358.0 301.6 358.3 301.7 358.7 301.8 359.0 301.8 359.3 301.1 359.6 301.5 359.9 301.3 360.2 300.9 360.6 300.7 360.9 301.3 361.2 301.3 361.5 301.2 361.8 301.4 362.2 301.9 362.5 301.9 362.8 302.1 363.1 302.0 363.4 302.4 363.7 302.0 364.1 302.0 364.4 302.5 364.7 302.3 365.0 302.1 365.3 302.6 365.7 302.4 366.0 302.6 366.3 302.3 366.6 302.5 366.9 302.3 367.2 302.2 367.6 302.7 367.9 302.3 368.2 302.3 368.5 302.9 368.8 302.9 369.1 302.8 369.5 302.6 369.8 302.3 370.1 302.7 370.4 302.9 370.7 302.5 371.1 302.5 371.4 302.3 371.7 302.8 372.0 302.3 372.3 302.9 372.6 302.5 373.0 302.8 373.3 302.5 373.6 302.8 373.9 302.6 374.2 302.5 374.6 302.5 374.9 302.7 375.2 302.2 375.5 302.7 375.8 302.4 376.1 302.6 376.5 302.5 376.8 302.3 377.1 301.8 377.4 301.7 377.7 302.0 378.0 301.3 378.4 301.5 378.7 300.8 379.0 300.6 379.3 300.9 379.6 300.8 380.0 300.8 380.3 300.9 380.6 301.4 380.9 301.1 381.2 301.9 381.5 302.1 381.9 302.1 382.2 301.8 382.5 302.4 382.8 302.5 383.1 302.5 383.4 302.7 383.8 302.4 384.1 302.5 384.4 302.5 384.7 302.9 385.0 302.9 385.4 302.9 385.7 302.8 386.0 303.1 386.3 302.6 386.6 303.0 386.9 302.8 387.3 303.0 387.6 303.1 387.9 302.5 388.2 302.9 388.5 302.5 388.9 303.2 389.2 302.7 389.5 302.8 389.8 303.1 390.1 303.1 390.4 303.1 390.8 302.6 391.1 302.7 391.4 302.8 391.7 302.7 392.0 302.6 392.3 302.9 392.7 302.8 393.0 302.5 393.3 303.0 393.6 302.8 393.9 302.9 394.3 302.5 394.6 302.8 394.9 303.1 395.2 302.9 395.5 303.0 395.8 302.9 396.2 302.9 396.5 302.6 396.8 302.8 397.1 302.2 397.4 302.3 397.8 301.9 398.1 301.7 398.4 301.3 398.7 301.7 399.0 301.0 399.3 301.2 399.7 301.1 400.0 300.6 400.3 301.1 400.6 300.7 400.9 301.0 401.2 301.5 401.6 301.9 401.9 302.1 402.2 302.0 402.5 302.0 402.8 302.5 403.2 302.6 403.5 302.6 403.8 302.8 404.1 303.0 404.4 302.7 404.7 302.9 405.1 302.6 405.4 302.9 405.7 303.1 406.0 303.2 406.3 302.9 406.7 303.1 407.0 302.8 407.3 303.2 407.6 303.1 407.9 303.3 408.2 303.2 408.6 303.3 408.9 302.9 409.2 303.0 409.5 303.1 409.8 303.1 410.1 303.2 410.5 303.3 410.8 302.8 411.1 303.0 411.4 303.2 411.7 303.1 412.1 303.3 412.4 303.3 412.7 303.1 413.0 302.8 413.3 302.8 413.6 303.2 414.0 302.8 414.3 303.4 414.6 303.4 414.9 302.9 415.2 303.0 415.5 303.2 415.9 303.1 416.2 302.8 416.5 302.8 416.8 303.3 417.1 303.1 417.5 303.3 417.8 302.8 418.1 303.4 418.4 303.4 418.7 302.7 419.0 303.3 419.4 303.3 419.7 302.9 420.0 302.7 420.3 302.7 420.6 302.6 421.0 302.7 421.3 301.9 421.6 301.5 421.9 301.2 422.2 301.4 422.5 300.8 422.9 301.1 423.2 301.3 423.5 302.0 423.8 302.0 424.1 302.5 424.4 303.0 424.8 302.8 425.1 303.0 425.4 302.8 425.7 302.9 426.0 303.1 426.4 302.8 426.7 302.9 427.0 303.2 427.3 302.7 427.6 303.0 427.9 302.6 428.3 302.9 428.6 302.8 428.9 303.1 429.2 302.5 429.5 302.8 429.9 302.8 430.2 302.6 430.5 302.8 430.8 302.7 431.1 302.7 431.4 302.8 431.8 302.6 432.1 302.5 432.4 302.5 432.7 302.5 433.0 302.6 433.3 302.3 433.7 302.1 434.0 302.4 434.3 302.5 434.6 302.1 434.9 302.3 435.3 302.4 435.6 302.5 435.9 302.3 436.2 302.4 436.5 302.6 436.8 302.1 437.2 302.7 437.5 302.1 437.8 302.4 438.1 302.4 438.4 302.8 438.7 302.5 439.1 302.9 439.4 302.9 439.7 302.7 440.0 302.8 440.3 302.4 440.7 303.1 441.0 302.8 441.3 302.5 441.6 302.6 441.9 303.0 442.2 302.7 442.6 303.2 442.9 302.8 443.2 302.7 443.5 303.3 443.8 303.1 444.2 303.4 444.5 303.3 444.8 303.4 445.1 303.4 445.4 303.4 445.7 302.9 446.1 303.2 446.4 303.1 446.7 303.4 447.0 303.1 447.3 303.0 447.6 303.5 448.0 303.1 448.3 303.0 448.6 303.2 448.9 303.1 449.2 303.0 449.6 303.3 449.9 303.5 450.2 303.6 450.5 303.1 450.8 303.4 451.1 303.4 451.5 303.2 451.8 303.5 452.1 303.5 452.4 303.6 452.7 303.5 453.1 303.3 453.4 303.2 453.7 303.1 454.0 303.1 454.3 303.1 454.6 303.6 455.0 303.4 455.3 303.4 455.6 303.6 455.9 303.3 456.2 303.2 456.5 303.5 456.9 303.4 457.2 303.3 457.5 303.6 457.8 303.6 458.1 303.3 458.5 303.3 458.8 303.5 459.1 303.5 459.4 303.2 459.7 303.6 460.0 303.4 460.4 303.2 460.7 303.1 461.0 303.2 461.3 303.6 461.6 303.3 461.9 303.3 462.3 303.5 462.6 303.7 462.9 303.3 463.2 303.7 463.5 303.5 463.9 303.3 464.2 303.1 464.5 303.2 464.8 303.4 465.1 303.5 465.4 303.3 465.8 303.5 466.1 303.2 466.4 303.4 466.7 303.6 467.0 303.7 467.4 303.2 467.7 303.6 468.0 303.2 468.3 303.3 468.6 303.3 468.9 303.7 469.3 303.5 469.6 303.3 469.9 303.5 470.2 303.0 470.5 303.5 470.8 303.4 471.2 303.5 471.5 303.2 471.8 303.1 472.1 303.0 472.4 303.6 472.8 303.4 473.1 303.5 473.4 303.5 473.7 303.5 474.0 303.5 474.3 303.7 474.7 303.6 475.0 303.2 475.3 303.3 475.6 303.1 475.9 303.3 476.3 303.4 476.6 303.1 476.9 303.3 477.2 303.2 477.5 303.7 477.8 303.1 478.2 303.5 478.5 303.3 478.8 303.2 479.1 303.2 479.4 303.2 479.7 303.3 480.1 303.1 480.4 303.1 480.7 303.1 481.0 303.1 481.3 303.1 481.7 303.5 482.0 303.1 482.3 303.3 482.6 303.7 482.9 303.5 483.2 303.0 483.6 303.5 483.9 303.6 484.2 303.7 484.5 303.6 484.8 303.5 485.1 303.3 485.5 303.4 485.8 303.4 486.1 303.6 486.4 303.6 486.7 303.2 487.1 303.7 487.4 303.5 487.7 303.1 488.0 303.4 488.3 303.2 488.6 303.2 489.0 303.2 489.3 303.2 489.6 303.7 489.9 303.7 490.2 303.7 490.6 303.1 490.9 303.3 491.2 303.2 491.5 303.7 491.8 303.7 492.1 303.3 492.5 303.7 492.8 303.4 493.1 303.2 493.4 303.4 493.7 303.6 494.0 303.6 494.4 303.5 494.7 303.4 495.0 303.6 495.3 303.4 495.6 303.3 496.0 303.6 496.3 303.6 496.6 303.1 496.9 303.5 497.2 303.4 497.5 303.2 497.9 303.1 498.2 303.1 498.5 303.4 498.8 303.7 499.1 303.3 499.5 303.1 499.8 303.6 500.1 303.7 500.4 303.4 500.7 303.2 501.0 303.6 501.4 303.5 501.7 303.7 502.0 303.6 502.3 303.2 502.6 303.1 502.9 303.2 503.3 303.5 503.6 303.5 503.9 303.3 504.2 303.4 504.5 303.0 504.9 303.5 505.2 303.3 505.5 303.3 505.8 303.1 506.1 303.5 506.4 303.5 506.8 303.2 507.1 303.3 507.4 303.6 507.7 303.5 508.0 303.6 508.4 303.1 508.7 303.0 509.0 303.5 509.3 303.7 509.6 303.1 509.9 303.1 510.3 303.5 510.6 303.4 510.9 303.3 511.2 303.7 511.5 303.2 511.8 303.6 512.2 303.5 512.5 303.5 512.8 303.6 513.1 303.5 513.4 303.3 513.8 303.1 514.1 303.5 514.4 303.0 514.7 303.6 515.0 303.6 515.3 303.3 515.7 303.0 516.0 303.7 516.3 303.1 516.6 303.1 516.9 303.3 517.2 303.4 517.6 303.2 517.9 303.3 518.2 303.6 518.5 303.2 518.8 303.4 519.2 303.5 519.5 303.1 519.8 303.2 520.1 303.4 520.4 303.6 520.7 303.6 521.1 303.0 521.4 303.1 521.7 303.3 522.0 303.0 522.3 303.4 522.7 303.0 523.0 302.9 523.3 303.4 523.6 303.1 523.9 303.4 524.2 303.2 524.6 303.1 524.9 303.4 525.2 303.4 525.5 303.3 525.8 303.0 526.1 303.3 526.5 303.1 526.8 303.1 527.1 302.7 527.4 302.6 527.7 302.8 528.1 302.7 528.4 303.2 528.7 303.2 529.0 302.9 529.3 303.1 529.6 302.8 530.0 302.6 530.3 302.4 530.6 302.7 530.9 302.8 531.2 302.5 531.6 302.4 531.9 302.2 532.2 302.1 532.5 301.8 532.8 301.9 533.1 301.9 533.5 301.3 533.8 301.6 534.1 301.0 534.4 300.7 534.7 300.3 535.0 300.6 535.4 299.9 535.7 299.3 536.0 298.9 536.3 298.9 536.6 298.0 537.0 297.6 537.3 297.1" fill="none" stroke="#f0762a" stroke-width="2.3" stroke-linejoin="round"/>
<path d="M28.4 234.3 28.7 234.4 29.0 234.2 29.4 234.0 29.7 234.3 30.0 234.2 30.3 234.4 30.6 234.1 30.9 234.3 31.3 233.7 31.6 234.4 31.9 234.2 32.2 234.4 32.5 234.2 32.8 234.3 33.2 234.2 33.5 234.2 33.8 234.1 34.1 234.0 34.4 234.3 34.8 234.3 35.1 234.0 35.4 234.2 35.7 234.1 36.0 234.0 36.3 234.2 36.7 234.4 37.0 234.1 37.3 234.0 37.6 234.2 37.9 234.4 38.3 233.8 38.6 234.4 38.9 234.3 39.2 234.3 39.5 233.8 39.8 234.4 40.2 234.2 40.5 234.1 40.8 234.4 41.1 234.0 41.4 234.4 41.7 234.1 42.1 234.0 42.4 233.9 42.7 233.8 43.0 234.0 43.3 233.9 43.7 234.2 44.0 234.2 44.3 234.2 44.6 233.9 44.9 233.8 45.2 234.0 45.6 234.1 45.9 234.1 46.2 234.2 46.5 234.1 46.8 234.4 47.2 234.3 47.5 233.8 47.8 234.0 48.1 233.9 48.4 233.8 48.7 233.8 49.1 234.0 49.4 234.1 49.7 233.9 50.0 234.0 50.3 234.3 50.6 233.9 51.0 234.3 51.3 234.1 51.6 234.0 51.9 234.2 52.2 233.8 52.6 234.0 52.9 233.8 53.2 233.7 53.5 234.2 53.8 234.0 54.1 233.9 54.5 233.9 54.8 234.2 55.1 233.8 55.4 233.7 55.7 234.0 56.0 234.0 56.4 233.6 56.7 234.1 57.0 233.9 57.3 233.5 57.6 233.4 58.0 233.6 58.3 233.9 58.6 233.9 58.9 233.7 59.2 233.3 59.5 233.0 59.9 233.3 60.2 233.2 60.5 233.1 60.8 232.3 61.1 232.0 61.5 232.0 61.8 231.6 62.1 230.5 62.4 229.7 62.7 228.5 63.0 226.8 63.4 222.5 63.7 215.3 64.0 203.2 64.3 186.1 64.6 165.7 64.9 153.2 65.3 158.8 65.6 177.7 65.9 197.2 66.2 211.5 66.5 220.5 66.9 225.0 67.2 227.9 67.5 229.6 67.8 230.5 68.1 231.0 68.4 232.0 68.8 231.9 69.1 232.5 69.4 232.4 69.7 232.9 70.0 233.2 70.4 233.1 70.7 233.1 71.0 233.0 71.3 232.8 71.6 232.9 71.9 232.8 72.3 233.2 72.6 233.2 72.9 233.0 73.2 232.8 73.5 232.3 73.8 232.2 74.2 231.3 74.5 230.6 74.8 229.7 75.1 227.2 75.4 223.7 75.8 218.5 76.1 210.3 76.4 199.5 76.7 188.0 77.0 182.0 77.3 184.7 77.7 194.0 78.0 204.4 78.3 213.1 78.6 217.9 78.9 220.2 79.2 220.8 79.6 220.0 79.9 219.4 80.2 221.2 80.5 224.4 80.8 226.9 81.2 228.9 81.5 230.7 81.8 231.9 82.1 232.6 82.4 233.2 82.7 233.6 83.1 233.6 83.4 233.8 83.7 234.1 84.0 234.6 84.3 234.4 84.7 234.4 85.0 234.9 85.3 234.8 85.6 234.5 85.9 234.6 86.2 235.2 86.6 234.7 86.9 234.9 87.2 235.5 87.5 235.5 87.8 235.6 88.1 235.3 88.5 235.6 88.8 235.2 89.1 235.2 89.4 235.3 89.7 235.3 90.1 235.9 90.4 235.3 90.7 235.9 91.0 236.0 91.3 235.9 91.6 235.6 92.0 236.2 92.3 235.9 92.6 236.0 92.9 236.1 93.2 236.1 93.6 236.3 93.9 235.8 94.2 235.9 94.5 236.3 94.8 235.8 95.1 236.0 95.5 236.0 95.8 236.4 96.1 236.6 96.4 236.2 96.7 236.6 97.0 236.2 97.4 236.2 97.7 236.5 98.0 236.7 98.3 236.6 98.6 236.6 99.0 236.6 99.3 236.8 99.6 236.6 99.9 236.4 100.2 236.6 100.5 236.7 100.9 236.6 101.2 237.0 101.5 237.0 101.8 237.2 102.1 236.6 102.5 237.1 102.8 237.0 103.1 236.9 103.4 237.2 103.7 237.0 104.0 237.3 104.4 237.4 104.7 237.2 105.0 237.1 105.3 237.1 105.6 237.4 105.9 237.3 106.3 236.9 106.6 237.4 106.9 237.4 107.2 237.5 107.5 237.5 107.9 237.5 108.2 237.5 108.5 237.0 108.8 237.0 109.1 237.4 109.4 237.6 109.8 237.5 110.1 237.7 110.4 237.6 110.7 237.7 111.0 237.2 111.3 237.3 111.7 237.3 112.0 237.3 112.3 237.3 112.6 237.6 112.9 237.2 113.3 237.0 113.6 237.2 113.9 236.7 114.2 236.2 114.5 236.5 114.8 236.0 115.2 235.3 115.5 234.6 115.8 234.3 116.1 234.7 116.4 234.9 116.8 235.5 117.1 235.8 117.4 236.7 117.7 236.7 118.0 237.1 118.3 237.1 118.7 237.4 119.0 237.5 119.3 237.4 119.6 237.5 119.9 237.5 120.2 237.1 120.6 237.2 120.9 237.2 121.2 236.5 121.5 236.8 121.8 236.8 122.2 236.6 122.5 236.8 122.8 236.8 123.1 237.2 123.4 237.5 123.7 237.7 124.1 237.2 124.4 237.8 124.7 237.4 125.0 237.8 125.3 237.7 125.7 237.3 126.0 237.3 126.3 237.6 126.6 237.7 126.9 237.7 127.2 237.2 127.6 237.1 127.9 237.1 128.2 237.2 128.5 237.0 128.8 237.4 129.1 237.2 129.5 236.9 129.8 236.0 130.1 236.1 130.4 235.4 130.7 234.4 131.1 232.9 131.4 231.9 131.7 231.1 132.0 230.7 132.3 231.8 132.6 232.6 133.0 234.1 133.3 235.1 133.6 235.8 133.9 236.4 134.2 236.3 134.5 236.6 134.9 237.2 135.2 236.9 135.5 237.5 135.8 236.9 136.1 237.3 136.5 237.6 136.8 237.1 137.1 237.5 137.4 237.0 137.7 237.0 138.0 237.2 138.4 236.9 138.7 236.6 139.0 236.8 139.3 236.4 139.6 235.5 140.0 234.6 140.3 233.9 140.6 232.3 140.9 231.3 141.2 230.7 141.5 229.9 141.9 231.1 142.2 232.5 142.5 233.2 142.8 234.6 143.1 235.6 143.4 236.2 143.8 236.5 144.1 237.1 144.4 236.7 144.7 236.9 145.0 237.5 145.4 237.0 145.7 237.6 146.0 237.1 146.3 237.6 146.6 237.6 146.9 237.1 147.3 237.6 147.6 237.1 147.9 237.0 148.2 237.4 148.5 237.2 148.9 237.2 149.2 236.9 149.5 236.9 149.8 237.0 150.1 236.2 150.4 236.1 150.8 234.9 151.1 234.2 151.4 233.1 151.7 231.3 152.0 229.4 152.3 227.4 152.7 226.6 153.0 226.9 153.3 228.2 153.6 230.6 153.9 232.1 154.3 233.9 154.6 234.8 154.9 235.7 155.2 236.2 155.5 236.4 155.8 236.8 156.2 236.7 156.5 236.9 156.8 237.3 157.1 237.1 157.4 237.3 157.7 236.7 158.1 236.8 158.4 236.7 158.7 236.5 159.0 236.8 159.3 236.0 159.7 235.8 160.0 234.6 160.3 234.1 160.6 232.4 160.9 231.3 161.2 230.2 161.6 229.8 161.9 230.5 162.2 231.9 162.5 233.2 162.8 234.0 163.2 235.1 163.5 235.6 163.8 235.6 164.1 235.9 164.4 235.8 164.7 235.1 165.1 234.5 165.4 233.4 165.7 231.7 166.0 229.8 166.3 228.6 166.6 227.9 167.0 228.3 167.3 229.4 167.6 230.9 167.9 232.9 168.2 233.9 168.6 235.2 168.9 236.0 169.2 236.4 169.5 236.6 169.8 237.1 170.1 237.4 170.5 237.1 170.8 237.6 171.1 237.3 171.4 237.8 171.7 237.7 172.1 237.3 172.4 237.6 172.7 237.7 173.0 237.5 173.3 237.4 173.6 237.8 174.0 237.8 174.3 237.5 174.6 237.2 174.9 237.2 175.2 236.6 175.5 236.4 175.9 236.1 176.2 236.6 176.5 237.0 176.8 237.0 177.1 237.5 177.5 237.3 177.8 237.6 178.1 237.6 178.4 237.5 178.7 237.8 179.0 237.6 179.4 237.7 179.7 238.0 180.0 237.7 180.3 238.1 180.6 237.6 181.0 237.6 181.3 237.8 181.6 237.3 181.9 237.6 182.2 237.4 182.5 237.3 182.9 237.2 183.2 237.1 183.5 237.4 183.8 237.4 184.1 237.4 184.4 237.6 184.8 238.0 185.1 237.5 185.4 237.5 185.7 237.7 186.0 237.4 186.4 237.5 186.7 237.5 187.0 238.0 187.3 237.2 187.6 237.6 187.9 237.3 188.3 237.1 188.6 236.3 188.9 235.7 189.2 235.3 189.5 234.1 189.8 232.7 190.2 232.3 190.5 231.5 190.8 232.1 191.1 233.2 191.4 233.7 191.8 235.2 192.1 236.1 192.4 236.3 192.7 237.3 193.0 237.6 193.3 237.4 193.7 237.6 194.0 238.1 194.3 237.9 194.6 237.7 194.9 237.9 195.3 237.9 195.6 237.6 195.9 238.2 196.2 237.6 196.5 237.7 196.8 237.7 197.2 237.8 197.5 237.6 197.8 238.2 198.1 237.7 198.4 237.7 198.7 237.8 199.1 238.0 199.4 238.0 199.7 237.9 200.0 237.7 200.3 238.2 200.7 237.6 201.0 237.8 201.3 237.9 201.6 238.2 201.9 237.5 202.2 237.7 202.6 238.0 202.9 237.4 203.2 237.9 203.5 238.0 203.8 237.8 204.2 237.5 204.5 237.7 204.8 237.5 205.1 237.7 205.4 237.4 205.7 237.9 206.1 237.6 206.4 237.2 206.7 237.6 207.0 236.7 207.3 236.6 207.6 236.8 208.0 236.4 208.3 235.9 208.6 235.0 208.9 235.3 209.2 235.5 209.6 235.4 209.9 235.7 210.2 236.5 210.5 236.4 210.8 236.9 211.1 236.8 211.5 236.9 211.8 237.2 212.1 237.6 212.4 237.0 212.7 237.6 213.0 237.2 213.4 237.6 213.7 237.3 214.0 237.6 214.3 237.5 214.6 237.3 215.0 237.0 215.3 237.0 215.6 237.5 215.9 237.2 216.2 237.1 216.5 236.9 216.9 237.3 217.2 236.8 217.5 237.0 217.8 236.8 218.1 237.3 218.5 237.0 218.8 237.2 219.1 237.2 219.4 236.4 219.7 236.9 220.0 236.7 220.4 236.5 220.7 235.7 221.0 235.8 221.3 235.0 221.6 234.0 221.9 232.6 222.3 231.9 222.6 231.0 222.9 230.5 223.2 230.7 223.5 231.7 223.9 233.0 224.2 233.6 224.5 234.5 224.8 235.2 225.1 235.8 225.4 235.8 225.8 235.9 226.1 236.3 226.4 236.1 226.7 236.3 227.0 235.7 227.4 236.1 227.7 235.4 228.0 234.8 228.3 233.8 228.6 233.6 228.9 232.5 229.3 232.1 229.6 232.5 229.9 233.2 230.2 234.1 230.5 235.1 230.8 235.3 231.2 235.6 231.5 236.4 231.8 236.4 232.1 236.7 232.4 236.5 232.8 236.5 233.1 236.9 233.4 237.0 233.7 236.7 234.0 236.9 234.3 236.8 234.7 236.7 235.0 237.1 235.3 236.6 235.6 236.7 235.9 236.8 236.2 237.0 236.6 236.8 236.9 236.7 237.2 236.6 237.5 236.5 237.8 236.8 238.2 236.5 238.5 236.4 238.8 237.0 239.1 236.6 239.4 236.7 239.7 237.1 240.1 236.5 240.4 236.8 240.7 237.0 241.0 236.3 241.3 236.6 241.7 236.6 242.0 236.7 242.3 236.6 242.6 236.7 242.9 236.7 243.2 236.5 243.6 236.4 243.9 236.4 244.2 236.0 244.5 235.7 244.8 235.8 245.1 235.7 245.5 235.6 245.8 234.6 246.1 234.5 246.4 233.6 246.7 233.0 247.1 233.0 247.4 232.9 247.7 233.1 248.0 233.6 248.3 234.5 248.6 234.6 249.0 234.8 249.3 235.3 249.6 235.2 249.9 235.2 250.2 234.7 250.6 234.8 250.9 235.0 251.2 234.3 251.5 234.5 251.8 234.0 252.1 233.7 252.5 233.5 252.8 233.2 253.1 232.3 253.4 232.2 253.7 231.4 254.0 230.6 254.4 229.1 254.7 227.8 255.0 225.3 255.3 223.1 255.6 219.5 256.0 214.6 256.3 209.0 256.6 202.3 256.9 194.7 257.2 187.2 257.5 179.6 257.9 173.4 258.2 170.2 258.5 171.0 258.8 173.9 259.1 177.7 259.4 180.6 259.8 181.1 260.1 177.9 260.4 176.5 260.7 181.7 261.0 194.2 261.4 206.1 261.7 214.5 262.0 220.0 262.3 223.3 262.6 225.0 262.9 226.0 263.3 226.5 263.6 226.8 263.9 226.5 264.2 226.4 264.5 225.3 264.9 222.6 265.2 219.7 265.5 215.6 265.8 210.9 266.1 209.1 266.4 210.1 266.8 212.4 267.1 214.5 267.4 212.8 267.7 209.1 268.0 204.0 268.3 201.2 268.7 203.5 269.0 210.4 269.3 217.2 269.6 223.2 269.9 226.9 270.3 229.2 270.6 230.7 270.9 231.0 271.2 232.0 271.5 232.3 271.8 232.4 272.2 231.9 272.5 231.4 272.8 230.2 273.1 227.9 273.4 225.0 273.8 221.2 274.1 218.4 274.4 217.9 274.7 220.7 275.0 224.2 275.3 228.3 275.7 230.9 276.0 232.4 276.3 233.2 276.6 234.0 276.9 234.5 277.2 234.4 277.6 234.6 277.9 234.3 278.2 233.9 278.5 234.3 278.8 234.1 279.2 233.9 279.5 233.9 279.8 234.1 280.1 234.3 280.4 234.8 280.7 235.1 281.1 234.9 281.4 235.3 281.7 235.4 282.0 236.0 282.3 235.9 282.6 235.9 283.0 235.8 283.3 236.1 283.6 236.4 283.9 236.2 284.2 236.6 284.6 236.5 284.9 236.2 285.2 236.6 285.5 236.6 285.8 236.4 286.1 236.1 286.5 236.0 286.8 236.3 287.1 236.0 287.4 236.0 287.7 235.5 288.1 235.3 288.4 234.4 288.7 234.4 289.0 233.8 289.3 234.1 289.6 234.4 290.0 234.7 290.3 235.0 290.6 235.3 290.9 235.8 291.2 236.0 291.5 235.4 291.9 235.5 292.2 235.3 292.5 234.5 292.8 233.6 293.1 233.7 293.5 233.6 293.8 233.6 294.1 234.0 294.4 234.4 294.7 234.9 295.0 235.6 295.4 236.0 295.7 236.0 296.0 236.1 296.3 236.3 296.6 236.2 297.0 236.8 297.3 236.8 297.6 236.8 297.9 236.7 298.2 236.4 298.5 236.8 298.9 236.4 299.2 236.4 299.5 236.1 299.8 235.8 300.1 235.6 300.4 235.9 300.8 235.0 301.1 234.8 301.4 233.9 301.7 232.9 302.0 232.5 302.4 232.3 302.7 232.0 303.0 232.5 303.3 233.6 303.6 233.7 303.9 234.4 304.3 234.5 304.6 234.2 304.9 233.6 305.2 233.1 305.5 231.9 305.9 231.2 306.2 231.1 306.5 232.2 306.8 232.6 307.1 233.7 307.4 234.7 307.8 235.1 308.1 235.7 308.4 235.8 308.7 235.9 309.0 236.5 309.3 236.1 309.7 236.6 310.0 236.5 310.3 236.5 310.6 235.8 310.9 235.8 311.3 236.1 311.6 236.1 311.9 235.9 312.2 235.8 312.5 235.6 312.8 235.1 313.2 235.1 313.5 235.1 313.8 235.7 314.1 235.8 314.4 235.5 314.7 235.9 315.1 235.8 315.4 236.0 315.7 236.4 316.0 236.2 316.3 236.5 316.7 236.5 317.0 236.8 317.3 236.7 317.6 236.9 317.9 236.7 318.2 237.0 318.6 236.5 318.9 236.6 319.2 236.8 319.5 237.0 319.8 236.5 320.2 236.5 320.5 236.6 320.8 236.8 321.1 236.9 321.4 236.9 321.7 237.0 322.1 236.7 322.4 237.0 322.7 236.9 323.0 236.5 323.3 236.8 323.6 236.6 324.0 237.0 324.3 236.5 324.6 236.4 324.9 236.7 325.2 236.9 325.6 236.4 325.9 236.7 326.2 236.5 326.5 236.4 326.8 236.7 327.1 236.3 327.5 236.5 327.8 235.8 328.1 235.6 328.4 236.2 328.7 235.8 329.1 235.7 329.4 235.8 329.7 235.6 330.0 235.4 330.3 235.5 330.6 235.9 331.0 235.7 331.3 236.1 331.6 236.1 331.9 235.5 332.2 235.9 332.5 235.7 332.9 235.7 333.2 235.5 333.5 235.5 333.8 235.5 334.1 235.0 334.5 234.6 334.8 233.8 335.1 233.2 335.4 232.6 335.7 231.9 336.0 231.3 336.4 231.3 336.7 231.0 337.0 232.0 337.3 232.6 337.6 233.0 337.9 233.5 338.3 234.6 338.6 234.7 338.9 235.0 339.2 235.4 339.5 235.6 339.9 235.7 340.2 235.8 340.5 236.3 340.8 236.2 341.1 236.0 341.4 236.4 341.8 235.7 342.1 235.7 342.4 235.4 342.7 234.9 343.0 234.8 343.4 233.9 343.7 233.1 344.0 232.3 344.3 231.6 344.6 230.6 344.9 230.1 345.3 229.0 345.6 229.4 345.9 230.0 346.2 230.4 346.5 231.0 346.8 232.1 347.2 233.2 347.5 233.6 347.8 234.1 348.1 234.5 348.4 234.7 348.8 234.8 349.1 234.8 349.4 234.8 349.7 235.3 350.0 235.4 350.3 235.0 350.7 235.2 351.0 235.5 351.3 236.2 351.6 236.4 351.9 236.6 352.3 236.9 352.6 236.3 352.9 236.8 353.2 236.9 353.5 237.1 353.8 236.8 354.2 236.7 354.5 237.3 354.8 236.9 355.1 236.8 355.4 237.4 355.7 237.2 356.1 236.9 356.4 237.1 356.7 236.8 357.0 237.3 357.3 236.8 357.7 237.0 358.0 236.8 358.3 236.7 358.6 236.9 358.9 237.0 359.2 236.6 359.6 236.4 359.9 236.6 360.2 236.3 360.5 236.4 360.8 235.7 361.1 235.8 361.5 236.0 361.8 236.1 362.1 235.7 362.4 236.1 362.7 236.0 363.1 236.2 363.4 236.7 363.7 236.9 364.0 237.2 364.3 236.8 364.6 236.8 365.0 237.1 365.3 237.4 365.6 237.4 365.9 237.3 366.2 237.2 366.6 237.0 366.9 237.2 367.2 237.7 367.5 237.5 367.8 237.5 368.1 237.7 368.5 237.2 368.8 237.7 369.1 237.2 369.4 237.4 369.7 237.7 370.0 237.1 370.4 237.6 370.7 237.2 371.0 237.7 371.3 237.8 371.6 237.7 372.0 237.6 372.3 237.3 372.6 237.8 372.9 237.6 373.2 237.6 373.5 237.7 373.9 237.3 374.2 237.5 374.5 237.1 374.8 237.5 375.1 237.7 375.5 237.6 375.8 237.5 376.1 237.2 376.4 237.6 376.7 237.0 377.0 237.5 377.4 237.3 377.7 237.3 378.0 236.8 378.3 237.1 378.6 236.9 378.9 236.6 379.3 236.4 379.6 236.1 379.9 236.0 380.2 236.0 380.5 236.1 380.9 235.6 381.2 235.8 381.5 235.9 381.8 236.7 382.1 236.3 382.4 236.9 382.8 236.9 383.1 236.9 383.4 237.5 383.7 237.4 384.0 237.1 384.3 237.7 384.7 237.2 385.0 237.2 385.3 237.5 385.6 237.6 385.9 237.2 386.3 237.4 386.6 237.9 386.9 237.8 387.2 237.8 387.5 237.8 387.8 237.3 388.2 237.8 388.5 237.7 388.8 237.4 389.1 237.6 389.4 237.9 389.8 237.6 390.1 237.3 390.4 237.6 390.7 237.3 391.0 237.5 391.3 237.5 391.7 237.9 392.0 237.9 392.3 237.6 392.6 237.4 392.9 237.9 393.2 237.8 393.6 237.5 393.9 237.3 394.2 237.9 394.5 237.2 394.8 237.8 395.2 237.7 395.5 237.5 395.8 237.5 396.1 237.8 396.4 237.6 396.7 237.7 397.1 237.3 397.4 237.1 397.7 237.4 398.0 236.7 398.3 237.1 398.7 236.9 399.0 236.6 399.3 236.6 399.6 236.3 399.9 235.5 400.2 235.3 400.6 235.7 400.9 235.5 401.2 235.5 401.5 235.8 401.8 235.7 402.1 236.2 402.5 236.2 402.8 236.5 403.1 236.8 403.4 236.9 403.7 236.9 404.1 237.6 404.4 237.1 404.7 237.7 405.0 237.1 405.3 237.4 405.6 237.9 406.0 237.6 406.3 237.5 406.6 237.5 406.9 237.4 407.2 237.5 407.6 237.9 407.9 237.9 408.2 237.8 408.5 237.4 408.8 237.5 409.1 237.9 409.5 237.8 409.8 237.8 410.1 238.0 410.4 237.5 410.7 237.9 411.0 237.4 411.4 237.8 411.7 237.5 412.0 237.7 412.3 237.7 412.6 238.0 413.0 237.5 413.3 237.9 413.6 237.8 413.9 238.0 414.2 237.8 414.5 237.6 414.9 237.5 415.2 238.0 415.5 237.8 415.8 237.6 416.1 237.5 416.4 237.4 416.8 237.6 417.1 238.0 417.4 237.4 417.7 237.4 418.0 238.0 418.4 237.4 418.7 237.6 419.0 238.0 419.3 237.7 419.6 237.7 419.9 237.8 420.3 237.8 420.6 237.3 420.9 237.2 421.2 237.5 421.5 237.2 421.9 236.9 422.2 236.7 422.5 235.8 422.8 235.9 423.1 235.0 423.4 235.0 423.8 235.5 424.1 236.1 424.4 236.5 424.7 236.4 425.0 237.2 425.3 236.9 425.7 237.0 426.0 237.7 426.3 237.4 426.6 237.7 426.9 237.4 427.3 237.8 427.6 237.6 427.9 237.2 428.2 237.3 428.5 237.5 428.8 237.7 429.2 237.3 429.5 237.7 429.8 237.7 430.1 237.6 430.4 237.5 430.8 237.1 431.1 237.1 431.4 237.4 431.7 237.5 432.0 237.0 432.3 236.9 432.7 237.1 433.0 236.8 433.3 236.9 433.6 237.3 433.9 236.6 434.2 236.7 434.6 236.7 434.9 236.9 435.2 236.9 435.5 236.6 435.8 236.6 436.2 237.1 436.5 236.8 436.8 236.4 437.1 236.9 437.4 236.6 437.7 236.9 438.1 236.8 438.4 236.6 438.7 236.9 439.0 237.2 439.3 237.0 439.6 237.0 440.0 237.5 440.3 237.4 440.6 236.9 440.9 237.2 441.2 237.5 441.6 237.6 441.9 237.5 442.2 237.5 442.5 237.4 442.8 237.6 443.1 237.5 443.5 237.8 443.8 237.6 444.1 238.0 444.4 237.5 444.7 237.7 445.1 237.7 445.4 237.4 445.7 237.7 446.0 238.1 446.3 237.5 446.6 238.0 447.0 237.5 447.3 238.2 447.6 237.7 447.9 237.9 448.2 237.8 448.5 237.8 448.9 238.2 449.2 237.7 449.5 238.0 449.8 237.7 450.1 238.3 450.5 238.0 450.8 238.1 451.1 238.0 451.4 237.7 451.7 237.7 452.0 237.9 452.4 237.8 452.7 238.1 453.0 238.2 453.3 238.2 453.6 238.4 454.0 238.1 454.3 238.1 454.6 237.7 454.9 238.3 455.2 238.0 455.5 237.7 455.9 238.3 456.2 238.0 456.5 237.8 456.8 238.1 457.1 238.2 457.4 238.2 457.8 238.2 458.1 238.0 458.4 237.8 458.7 238.1 459.0 238.3 459.4 238.2 459.7 238.1 460.0 238.2 460.3 238.0 460.6 238.3 460.9 237.8 461.3 238.1 461.6 238.0 461.9 238.0 462.2 238.2 462.5 238.3 462.8 237.8 463.2 238.3 463.5 237.8 463.8 238.4 464.1 238.1 464.4 237.8 464.8 237.8 465.1 238.2 465.4 238.0 465.7 237.9 466.0 238.4 466.3 238.2 466.7 238.1 467.0 237.9 467.3 237.9 467.6 238.1 467.9 238.3 468.3 237.8 468.6 238.3 468.9 237.9 469.2 237.8 469.5 238.0 469.8 237.8 470.2 238.3 470.5 238.1 470.8 238.0 471.1 238.0 471.4 237.9 471.7 238.5 472.1 237.8 472.4 238.1 472.7 238.2 473.0 238.2 473.3 238.0 473.7 237.9 474.0 238.0 474.3 238.1 474.6 238.1 474.9 238.5 475.2 238.4 475.6 238.3 475.9 237.9 476.2 238.2 476.5 237.9 476.8 237.9 477.2 238.0 477.5 238.1 477.8 238.4 478.1 238.0 478.4 238.2 478.7 237.9 479.1 238.0 479.4 238.4 479.7 238.1 480.0 238.4 480.3 237.9 480.6 237.8 481.0 238.4 481.3 237.9 481.6 238.4 481.9 237.9 482.2 237.9 482.6 238.2 482.9 238.4 483.2 238.1 483.5 238.4 483.8 237.9 484.1 237.9 484.5 238.2 484.8 238.0 485.1 238.1 485.4 238.3 485.7 238.1 486.0 238.1 486.4 238.0 486.7 237.9 487.0 238.2 487.3 238.0 487.6 238.0 488.0 238.1 488.3 238.2 488.6 237.9 488.9 238.3 489.2 238.4 489.5 237.9 489.9 237.9 490.2 237.9 490.5 238.2 490.8 238.1 491.1 237.9 491.5 237.9 491.8 237.9 492.1 238.1 492.4 238.1 492.7 238.5 493.0 238.1 493.4 237.9 493.7 238.4 494.0 238.5 494.3 238.0 494.6 238.2 494.9 238.2 495.3 238.3 495.6 238.1 495.9 237.8 496.2 237.9 496.5 237.9 496.9 238.1 497.2 237.9 497.5 237.9 497.8 238.1 498.1 238.1 498.4 238.3 498.8 238.3 499.1 238.2 499.4 238.0 499.7 238.0 500.0 238.3 500.4 238.1 500.7 238.0 501.0 238.5 501.3 238.2 501.6 238.0 501.9 237.8 502.3 237.8 502.6 238.4 502.9 238.1 503.2 237.8 503.5 238.0 503.8 238.0 504.2 238.4 504.5 238.5 504.8 238.4 505.1 238.1 505.4 238.0 505.8 238.0 506.1 237.9 506.4 238.3 506.7 238.2 507.0 238.3 507.3 237.9 507.7 238.4 508.0 237.8 508.3 238.1 508.6 238.4 508.9 238.1 509.3 238.5 509.6 238.4 509.9 238.4 510.2 238.0 510.5 238.1 510.8 237.8 511.2 238.2 511.5 237.9 511.8 238.4 512.1 237.9 512.4 238.4 512.7 237.9 513.1 237.8 513.4 238.1 513.7 238.2 514.0 238.0 514.3 238.3 514.7 238.4 515.0 238.4 515.3 238.0 515.6 238.3 515.9 238.2 516.2 238.1 516.6 237.8 516.9 238.1 517.2 238.4 517.5 238.0 517.8 238.4 518.1 237.8 518.5 238.4 518.8 237.9 519.1 238.0 519.4 238.3 519.7 237.8 520.1 238.2 520.4 238.0 520.7 238.4 521.0 237.8 521.3 237.8 521.6 238.3 522.0 238.4 522.3 238.1 522.6 238.0 522.9 237.9 523.2 238.1 523.6 238.1 523.9 237.7 524.2 238.1 524.5 238.0 524.8 238.1 525.1 238.0 525.5 238.0 525.8 238.0 526.1 237.7 526.4 238.1 526.7 237.8 527.0 238.0 527.4 237.8 527.7 237.9 528.0 237.8 528.3 237.6 528.6 237.9 529.0 237.7 529.3 238.1 529.6 237.9 529.9 237.4 530.2 237.7 530.5 237.6 530.9 237.6 531.2 237.6 531.5 237.5 531.8 237.2 532.1 237.3 532.5 237.6 532.8 237.6 533.1 237.4 533.4 237.2 533.7 237.0 534.0 237.2 534.4 236.6 534.7 236.5 535.0 236.4 535.3 236.5 535.6 236.1 535.9 235.8 536.3 235.4 536.6 235.3 536.9 234.5 537.2 234.3 537.5 234.2 537.9 233.7 538.2 233.0" fill="none" stroke="#727272" stroke-width="2.3" stroke-linejoin="round"/>
<path d="M27.5 138.4 27.8 138.2 28.1 138.3 28.5 138.3 28.8 138.0 29.1 138.5 29.4 138.3 29.7 138.7 30.0 138.2 30.4 138.6 30.7 138.2 31.0 138.5 31.3 138.6 31.6 138.7 31.9 138.7 32.3 138.7 32.6 138.1 32.9 138.7 33.2 138.4 33.5 138.6 33.9 138.1 34.2 138.2 34.5 138.7 34.8 138.4 35.1 138.2 35.4 138.0 35.8 138.5 36.1 138.2 36.4 138.7 36.7 138.3 37.0 138.6 37.4 138.2 37.7 138.3 38.0 138.7 38.3 138.5 38.6 138.2 38.9 138.3 39.3 138.1 39.6 138.5 39.9 138.3 40.2 138.7 40.5 138.1 40.8 138.3 41.2 138.7 41.5 138.2 41.8 138.7 42.1 138.1 42.4 138.3 42.8 138.4 43.1 138.1 43.4 138.7 43.7 138.4 44.0 138.5 44.3 138.5 44.7 138.4 45.0 138.1 45.3 138.2 45.6 138.2 45.9 138.5 46.3 138.7 46.6 138.5 46.9 138.1 47.2 138.5 47.5 138.4 47.8 138.7 48.2 138.7 48.5 138.2 48.8 138.3 49.1 138.2 49.4 138.1 49.7 138.5 50.1 138.1 50.4 138.2 50.7 138.2 51.0 138.3 51.3 138.5 51.7 138.1 52.0 138.1 52.3 138.6 52.6 138.3 52.9 138.2 53.2 138.5 53.6 138.4 53.9 138.2 54.2 138.1 54.5 138.2 54.8 137.8 55.1 138.1 55.5 138.3 55.8 138.2 56.1 137.9 56.4 138.1 56.7 138.2 57.1 138.1 57.4 137.6 57.7 137.8 58.0 137.9 58.3 137.9 58.6 137.8 59.0 137.6 59.3 136.9 59.6 137.2 59.9 136.6 60.2 136.8 60.6 136.3 60.9 135.4 61.2 134.7 61.5 134.1 61.8 132.8 62.1 130.6 62.5 126.2 62.8 118.8 63.1 106.9 63.4 88.2 63.7 67.8 64.0 54.1 64.4 60.2 64.7 80.2 65.0 99.7 65.3 115.1 65.6 123.8 66.0 129.0 66.3 131.7 66.6 133.5 66.9 135.0 67.2 135.3 67.5 135.7 67.9 136.6 68.2 136.5 68.5 137.0 68.8 136.8 69.1 137.2 69.5 137.1 69.8 137.7 70.1 137.3 70.4 137.4 70.7 137.7 71.0 137.4 71.4 137.3 71.7 137.1 72.0 136.8 72.3 136.5 72.6 136.6 72.9 136.3 73.3 135.3 73.6 134.6 73.9 133.1 74.2 131.3 74.5 128.0 74.9 122.0 75.2 112.6 75.5 101.6 75.8 89.7 76.1 82.5 76.4 85.9 76.8 95.6 77.1 107.5 77.4 116.4 77.7 121.5 78.0 123.9 78.3 124.9 78.7 123.9 79.0 124.4 79.3 125.4 79.6 128.4 79.9 130.9 80.3 133.7 80.6 135.1 80.9 136.1 81.2 137.1 81.5 137.7 81.8 138.2 82.2 138.4 82.5 138.7 82.8 138.4 83.1 138.8 83.4 139.0 83.8 138.9 84.1 139.2 84.4 139.0 84.7 139.2 85.0 139.1 85.3 139.6 85.7 139.6 86.0 139.5 86.3 139.5 86.6 140.1 86.9 139.6 87.2 139.8 87.6 140.0 87.9 140.0 88.2 140.3 88.5 140.4 88.8 140.1 89.2 140.3 89.5 140.0 89.8 140.6 90.1 140.1 90.4 140.5 90.7 140.4 91.1 140.3 91.4 140.8 91.7 140.3 92.0 140.6 92.3 140.7 92.7 141.0 93.0 140.7 93.3 141.2 93.6 140.6 93.9 141.3 94.2 140.6 94.6 141.0 94.9 140.7 95.2 141.2 95.5 140.8 95.8 141.2 96.1 141.0 96.5 141.3 96.8 141.4 97.1 141.7 97.4 141.3 97.7 141.3 98.1 141.7 98.4 141.3 98.7 141.8 99.0 141.4 99.3 141.3 99.6 142.0 100.0 141.9 100.3 141.7 100.6 141.5 100.9 141.9 101.2 142.2 101.6 141.6 101.9 142.1 102.2 142.0 102.5 141.7 102.8 142.1 103.1 141.9 103.5 141.9 103.8 142.4 104.1 142.3 104.4 142.3 104.7 142.0 105.0 142.3 105.4 142.3 105.7 142.1 106.0 142.5 106.3 142.1 106.6 142.3 107.0 142.6 107.3 142.3 107.6 142.6 107.9 142.2 108.2 142.0 108.5 142.5 108.9 142.7 109.2 142.3 109.5 142.4 109.8 142.4 110.1 142.1 110.4 142.2 110.8 142.5 111.1 142.5 111.4 142.3 111.7 142.3 112.0 142.6 112.4 142.1 112.7 141.9 113.0 141.7 113.3 141.4 113.6 141.4 113.9 140.7 114.3 140.2 114.6 140.1 114.9 139.9 115.2 140.0 115.5 140.1 115.9 140.9 116.2 141.0 116.5 141.8 116.8 141.6 117.1 142.1 117.4 142.4 117.8 142.3 118.1 142.4 118.4 142.2 118.7 142.6 119.0 142.5 119.3 142.3 119.7 142.0 120.0 142.1 120.3 141.9 120.6 141.8 120.9 141.6 121.3 141.3 121.6 141.9 121.9 141.9 122.2 142.0 122.5 142.5 122.8 142.2 123.2 142.5 123.5 142.4 123.8 142.6 124.1 142.6 124.4 142.8 124.8 142.3 125.1 142.7 125.4 142.9 125.7 142.9 126.0 142.7 126.3 142.5 126.7 142.2 127.0 142.3 127.3 142.1 127.6 142.1 127.9 142.5 128.2 142.0 128.6 141.8 128.9 141.4 129.2 140.8 129.5 140.3 129.8 139.1 130.2 137.6 130.5 136.1 130.8 135.8 131.1 135.2 131.4 136.5 131.7 137.2 132.1 138.4 132.4 140.0 132.7 140.3 133.0 141.3 133.3 141.7 133.6 141.7 134.0 142.1 134.3 142.5 134.6 142.3 134.9 142.7 135.2 142.1 135.6 142.5 135.9 142.1 136.2 142.5 136.5 142.4 136.8 142.1 137.1 142.5 137.5 142.4 137.8 142.1 138.1 141.6 138.4 141.1 138.7 140.6 139.1 140.1 139.4 138.8 139.7 137.7 140.0 135.8 140.3 135.1 140.6 135.5 141.0 136.0 141.3 137.3 141.6 138.8 141.9 139.9 142.2 140.8 142.5 141.1 142.9 141.6 143.2 142.1 143.5 142.2 143.8 142.6 144.1 142.1 144.5 142.6 144.8 142.4 145.1 142.2 145.4 142.5 145.7 142.2 146.0 142.8 146.4 142.5 146.7 142.8 147.0 142.3 147.3 142.3 147.6 142.5 148.0 142.5 148.3 142.2 148.6 142.0 148.9 141.5 149.2 141.6 149.5 141.3 149.9 140.1 150.2 138.9 150.5 137.4 150.8 135.7 151.1 133.6 151.4 131.8 151.8 130.8 152.1 131.7 152.4 132.8 152.7 135.3 153.0 137.3 153.4 138.8 153.7 139.7 154.0 140.5 154.3 141.3 154.6 142.0 154.9 141.6 155.3 142.3 155.6 142.4 155.9 142.4 156.2 142.3 156.5 142.2 156.8 142.2 157.2 142.1 157.5 142.2 157.8 142.0 158.1 141.7 158.4 141.4 158.8 141.3 159.1 140.1 159.4 139.6 159.7 138.1 160.0 137.5 160.3 136.1 160.7 136.1 161.0 136.6 161.3 137.3 161.6 139.1 161.9 140.1 162.3 140.8 162.6 141.0 162.9 141.4 163.2 141.5 163.5 141.2 163.8 140.3 164.2 140.0 164.5 138.5 164.8 136.9 165.1 135.2 165.4 133.5 165.7 133.0 166.1 133.3 166.4 134.4 166.7 136.7 167.0 137.9 167.3 139.7 167.7 141.1 168.0 141.3 168.3 142.2 168.6 142.4 168.9 142.9 169.2 142.8 169.6 143.0 169.9 142.8 170.2 142.9 170.5 143.3 170.8 143.0 171.2 143.4 171.5 143.0 171.8 143.6 172.1 143.6 172.4 143.2 172.7 143.6 173.1 143.0 173.4 142.9 173.7 143.4 174.0 142.7 174.3 142.7 174.6 142.8 175.0 142.3 175.3 143.0 175.6 142.5 175.9 142.9 176.2 143.3 176.6 143.0 176.9 143.3 177.2 143.7 177.5 143.8 177.8 143.5 178.1 143.6 178.5 143.5 178.8 143.8 179.1 143.4 179.4 143.4 179.7 143.9 180.1 143.8 180.4 143.5 180.7 143.1 181.0 143.3 181.3 143.0 181.6 142.8 182.0 143.0 182.3 143.1 182.6 142.9 182.9 143.5 183.2 143.2 183.5 143.8 183.9 143.6 184.2 143.9 184.5 143.5 184.8 143.9 185.1 143.7 185.5 143.9 185.8 143.7 186.1 143.6 186.4 143.4 186.7 143.7 187.0 143.1 187.4 143.0 187.7 142.3 188.0 141.8 188.3 140.6 188.6 139.4 188.9 138.0 189.3 137.5 189.6 136.6 189.9 137.6 190.2 138.7 190.5 139.3 190.9 141.1 191.2 142.0 191.5 142.5 191.8 142.7 192.1 143.0 192.4 143.7 192.8 143.7 193.1 144.1 193.4 143.8 193.7 143.6 194.0 144.0 194.4 143.8 194.7 144.1 195.0 144.0 195.3 144.4 195.6 143.9 195.9 144.2 196.3 144.4 196.6 143.9 196.9 144.1 197.2 143.8 197.5 143.9 197.8 143.9 198.2 144.3 198.5 144.4 198.8 143.9 199.1 144.3 199.4 144.3 199.8 143.9 200.1 143.8 200.4 144.3 200.7 143.9 201.0 144.1 201.3 143.8 201.7 143.9 202.0 144.2 202.3 143.9 202.6 144.3 202.9 143.9 203.3 144.2 203.6 144.2 203.9 144.2 204.2 143.7 204.5 144.2 204.8 143.5 205.2 144.0 205.5 144.0 205.8 143.2 206.1 143.2 206.4 143.0 206.7 142.4 207.1 142.4 207.4 141.4 207.7 141.3 208.0 140.9 208.3 141.4 208.7 141.9 209.0 141.9 209.3 142.4 209.6 142.7 209.9 143.2 210.2 143.3 210.6 143.5 210.9 143.7 211.2 143.9 211.5 143.6 211.8 143.9 212.1 143.9 212.5 144.1 212.8 143.6 213.1 144.1 213.4 144.1 213.7 143.9 214.1 143.9 214.4 144.0 214.7 143.6 215.0 143.5 215.3 143.8 215.6 143.6 216.0 144.0 216.3 143.9 216.6 143.9 216.9 143.3 217.2 143.5 217.6 143.4 217.9 143.3 218.2 143.3 218.5 143.3 218.8 143.4 219.1 143.0 219.5 142.9 219.8 142.0 220.1 141.5 220.4 141.2 220.7 139.8 221.0 138.3 221.4 137.1 221.7 136.1 222.0 135.3 222.3 135.9 222.6 136.9 223.0 138.8 223.3 140.0 223.6 140.7 223.9 141.3 224.2 141.9 224.5 142.3 224.9 142.6 225.2 142.6 225.5 142.7 225.8 142.5 226.1 142.1 226.5 142.2 226.8 141.2 227.1 140.8 227.4 139.6 227.7 138.5 228.0 137.5 228.4 137.2 228.7 137.6 229.0 138.8 229.3 140.1 229.6 140.8 229.9 141.7 230.3 141.9 230.6 142.8 230.9 142.6 231.2 142.8 231.5 143.0 231.9 143.3 232.2 143.6 232.5 143.2 232.8 143.1 233.1 143.5 233.4 143.2 233.8 143.4 234.1 143.5 234.4 143.3 234.7 143.6 235.0 143.5 235.3 143.4 235.7 143.7 236.0 143.5 236.3 143.4 236.6 143.5 236.9 143.4 237.3 143.6 237.6 143.1 237.9 143.1 238.2 143.1 238.5 143.6 238.8 143.3 239.2 143.5 239.5 143.4 239.8 143.2 240.1 143.4 240.4 143.2 240.8 143.1 241.1 143.2 241.4 143.2 241.7 142.8 242.0 142.8 242.3 143.1 242.7 143.1 243.0 142.6 243.3 142.9 243.6 142.4 243.9 142.2 244.2 142.2 244.6 141.7 244.9 140.5 245.2 140.2 245.5 139.2 245.8 138.3 246.2 138.4 246.5 138.4 246.8 138.6 247.1 139.4 247.4 139.9 247.7 140.7 248.1 140.9 248.4 141.3 248.7 141.1 249.0 141.4 249.3 141.2 249.7 140.7 250.0 141.0 250.3 140.7 250.6 140.5 250.9 140.2 251.2 140.0 251.6 139.6 251.9 139.0 252.2 138.1 252.5 138.0 252.8 137.0 253.1 136.1 253.5 134.5 253.8 132.7 254.1 130.5 254.4 127.1 254.7 123.2 255.1 117.7 255.4 111.5 255.7 103.9 256.0 95.3 256.3 86.6 256.6 78.0 257.0 71.2 257.3 67.7 257.6 68.1 257.9 71.9 258.2 76.3 258.5 79.5 258.9 80.2 259.2 77.0 259.5 75.1 259.8 81.5 260.1 94.6 260.5 108.1 260.8 118.0 261.1 123.6 261.4 127.1 261.7 129.5 262.0 130.3 262.4 130.6 262.7 131.1 263.0 131.1 263.3 130.5 263.6 129.6 264.0 127.1 264.3 123.9 264.6 120.3 264.9 115.7 265.2 113.9 265.5 114.8 265.9 116.6 266.2 117.8 266.5 116.0 266.8 111.6 267.1 105.1 267.4 101.5 267.8 104.8 268.1 112.3 268.4 120.5 268.7 126.7 269.0 131.3 269.4 133.8 269.7 135.6 270.0 136.5 270.3 137.0 270.6 137.3 270.9 137.5 271.3 136.6 271.6 136.4 271.9 134.6 272.2 132.0 272.5 127.9 272.9 124.1 273.2 120.5 273.5 120.2 273.8 123.1 274.1 127.7 274.4 132.0 274.8 135.2 275.1 137.5 275.4 138.3 275.7 139.3 276.0 139.7 276.3 140.0 276.7 139.9 277.0 139.8 277.3 139.7 277.6 139.5 277.9 139.4 278.3 139.6 278.6 139.5 278.9 139.8 279.2 139.8 279.5 140.1 279.8 140.2 280.2 141.0 280.5 141.3 280.8 141.2 281.1 141.4 281.4 141.3 281.8 141.8 282.1 142.0 282.4 142.2 282.7 141.9 283.0 141.8 283.3 142.4 283.7 142.0 284.0 142.0 284.3 141.7 284.6 142.3 284.9 141.8 285.2 142.0 285.6 142.1 285.9 141.8 286.2 141.1 286.5 141.3 286.8 140.4 287.2 139.9 287.5 139.6 287.8 138.9 288.1 138.4 288.4 138.6 288.7 139.0 289.1 140.2 289.4 140.2 289.7 140.6 290.0 141.1 290.3 140.8 290.6 141.2 291.0 140.7 291.3 140.4 291.6 139.3 291.9 138.4 292.2 138.2 292.6 137.6 292.9 138.0 293.2 138.7 293.5 139.9 293.8 140.5 294.1 140.5 294.5 141.4 294.8 141.5 295.1 141.8 295.4 142.1 295.7 142.3 296.1 141.7 296.4 142.3 296.7 142.4 297.0 142.3 297.3 142.1 297.6 142.4 298.0 141.9 298.3 142.3 298.6 141.6 298.9 141.5 299.2 141.5 299.5 141.4 299.9 140.7 300.2 140.3 300.5 139.4 300.8 138.9 301.1 138.1 301.5 137.7 301.8 138.1 302.1 138.7 302.4 139.0 302.7 139.7 303.0 139.9 303.4 139.8 303.7 139.0 304.0 138.3 304.3 137.8 304.6 137.0 305.0 136.2 305.3 136.1 305.6 136.5 305.9 137.6 306.2 139.0 306.5 139.5 306.9 140.2 307.2 141.2 307.5 141.4 307.8 141.5 308.1 141.7 308.4 141.8 308.8 141.6 309.1 142.0 309.4 141.5 309.7 141.8 310.0 141.6 310.4 141.0 310.7 141.3 311.0 141.2 311.3 140.9 311.6 140.5 311.9 140.3 312.3 140.3 312.6 140.3 312.9 140.9 313.2 141.0 313.5 141.2 313.8 141.0 314.2 141.5 314.5 141.8 314.8 141.5 315.1 142.1 315.4 141.7 315.8 141.7 316.1 142.3 316.4 142.3 316.7 142.5 317.0 141.9 317.3 141.9 317.7 142.3 318.0 142.5 318.3 142.6 318.6 142.2 318.9 142.2 319.3 142.5 319.6 142.2 319.9 142.1 320.2 142.1 320.5 142.5 320.8 142.6 321.2 141.9 321.5 142.0 321.8 142.6 322.1 142.3 322.4 142.3 322.7 142.6 323.1 142.2 323.4 142.4 323.7 141.9 324.0 142.3 324.3 142.3 324.7 142.1 325.0 142.0 325.3 142.4 325.6 142.4 325.9 142.1 326.2 142.3 326.6 141.8 326.9 142.1 327.2 141.8 327.5 142.1 327.8 142.1 328.2 141.7 328.5 141.7 328.8 141.9 329.1 142.2 329.4 141.7 329.7 141.9 330.1 141.7 330.4 142.1 330.7 142.1 331.0 142.0 331.3 141.5 331.6 141.7 332.0 141.4 332.3 141.1 332.6 141.1 332.9 140.5 333.2 140.6 333.6 139.7 333.9 139.2 334.2 138.6 334.5 137.7 334.8 136.7 335.1 136.1 335.5 135.9 335.8 136.2 336.1 136.7 336.4 137.2 336.7 137.8 337.0 138.4 337.4 139.3 337.7 139.8 338.0 140.0 338.3 140.9 338.6 140.9 339.0 141.1 339.3 141.2 339.6 140.9 339.9 141.1 340.2 141.4 340.5 141.3 340.9 141.2 341.2 140.9 341.5 140.4 341.8 140.0 342.1 139.7 342.5 138.4 342.8 137.8 343.1 137.0 343.4 135.3 343.7 134.5 344.0 133.8 344.4 133.1 344.7 132.9 345.0 133.0 345.3 134.4 345.6 135.5 345.9 136.5 346.3 137.6 346.6 138.4 346.9 139.1 347.2 138.9 347.5 139.5 347.9 139.1 348.2 139.4 348.5 139.5 348.8 139.0 349.1 139.0 349.4 139.3 349.8 139.9 350.1 140.3 350.4 140.0 350.7 141.0 351.0 140.8 351.4 141.3 351.7 141.6 352.0 141.7 352.3 141.9 352.6 142.1 352.9 142.1 353.3 141.8 353.6 141.7 353.9 142.3 354.2 142.4 354.5 142.4 354.8 142.3 355.2 142.2 355.5 142.1 355.8 142.2 356.1 141.9 356.4 141.8 356.8 142.3 357.1 141.9 357.4 141.9 357.7 141.6 358.0 141.8 358.3 141.4 358.7 141.7 359.0 141.7 359.3 141.6 359.6 141.1 359.9 140.8 360.2 140.6 360.6 140.6 360.9 140.7 361.2 141.3 361.5 141.0 361.8 141.2 362.2 141.5 362.5 142.0 362.8 141.9 363.1 142.0 363.4 142.1 363.7 141.9 364.1 142.4 364.4 142.4 364.7 142.1 365.0 142.6 365.3 142.3 365.7 142.1 366.0 142.4 366.3 142.6 366.6 142.6 366.9 142.4 367.2 142.8 367.6 142.5 367.9 142.6 368.2 142.6 368.5 142.3 368.8 142.6 369.1 142.6 369.5 142.7 369.8 142.3 370.1 142.7 370.4 142.4 370.7 142.4 371.1 142.3 371.4 142.7 371.7 142.5 372.0 142.3 372.3 142.4 372.6 142.5 373.0 142.6 373.3 142.5 373.6 142.6 373.9 142.6 374.2 142.9 374.6 142.4 374.9 142.8 375.2 142.3 375.5 142.7 375.8 142.2 376.1 142.5 376.5 142.7 376.8 142.3 377.1 141.9 377.4 142.2 377.7 142.3 378.0 141.8 378.4 141.8 378.7 141.3 379.0 141.4 379.3 141.5 379.6 141.1 380.0 141.6 380.3 141.7 380.6 141.8 380.9 142.1 381.2 141.9 381.5 142.4 381.9 142.4 382.2 142.2 382.5 142.3 382.8 142.4 383.1 142.4 383.4 142.7 383.8 142.4 384.1 142.6 384.4 142.7 384.7 142.8 385.0 142.8 385.4 142.8 385.7 143.0 386.0 142.9 386.3 142.6 386.6 143.1 386.9 143.1 387.3 142.7 387.6 142.6 387.9 143.1 388.2 142.6 388.5 142.6 388.9 142.7 389.2 143.0 389.5 142.7 389.8 143.0 390.1 143.1 390.4 143.0 390.8 142.5 391.1 142.9 391.4 142.6 391.7 142.9 392.0 142.8 392.3 143.0 392.7 142.9 393.0 142.5 393.3 142.5 393.6 142.9 393.9 142.5 394.3 142.9 394.6 143.1 394.9 142.6 395.2 142.7 395.5 142.3 395.8 142.7 396.2 142.9 396.5 142.8 396.8 142.3 397.1 142.1 397.4 142.2 397.8 142.3 398.1 141.7 398.4 141.8 398.7 141.8 399.0 141.0 399.3 140.6 399.7 141.1 400.0 141.0 400.3 140.8 400.6 141.3 400.9 141.2 401.2 141.7 401.6 141.3 401.9 141.6 402.2 141.9 402.5 142.3 402.8 142.1 403.2 142.4 403.5 142.6 403.8 142.3 404.1 142.8 404.4 142.6 404.7 142.9 405.1 143.1 405.4 143.1 405.7 143.1 406.0 142.7 406.3 142.8 406.7 143.2 407.0 142.8 407.3 143.1 407.6 142.8 407.9 142.8 408.2 143.1 408.6 142.8 408.9 142.8 409.2 142.6 409.5 142.6 409.8 142.8 410.1 143.3 410.5 143.2 410.8 142.6 411.1 142.8 411.4 143.3 411.7 143.0 412.1 142.7 412.4 143.3 412.7 143.1 413.0 142.8 413.3 143.3 413.6 143.3 414.0 143.0 414.3 143.2 414.6 142.7 414.9 142.8 415.2 143.1 415.5 142.9 415.9 143.2 416.2 142.8 416.5 142.8 416.8 143.4 417.1 142.9 417.5 142.8 417.8 143.2 418.1 143.2 418.4 143.3 418.7 142.7 419.0 143.3 419.4 143.1 419.7 143.0 420.0 142.9 420.3 143.0 420.6 142.7 421.0 142.8 421.3 142.2 421.6 142.0 421.9 141.7 422.2 141.6 422.5 141.4 422.9 141.6 423.2 142.0 423.5 142.1 423.8 142.4 424.1 142.7 424.4 143.1 424.8 143.1 425.1 143.3 425.4 142.8 425.7 142.8 426.0 143.4 426.4 143.0 426.7 143.0 427.0 143.5 427.3 143.2 427.6 143.3 427.9 143.5 428.3 143.4 428.6 142.8 428.9 143.3 429.2 143.0 429.5 142.9 429.9 143.2 430.2 143.0 430.5 143.2 430.8 143.2 431.1 143.2 431.4 143.2 431.8 142.9 432.1 142.5 432.4 142.5 432.7 142.8 433.0 142.7 433.3 142.8 433.7 142.4 434.0 142.4 434.3 142.3 434.6 142.9 434.9 142.4 435.3 142.5 435.6 142.5 435.9 142.7 436.2 142.9 436.5 142.8 436.8 143.0 437.2 142.7 437.5 142.5 437.8 142.6 438.1 142.7 438.4 142.7 438.7 142.8 439.1 143.3 439.4 143.3 439.7 143.2 440.0 143.0 440.3 143.2 440.7 143.2 441.0 143.6 441.3 143.5 441.6 143.6 441.9 143.4 442.2 143.6 442.6 143.7 442.9 143.4 443.2 143.9 443.5 143.3 443.8 143.4 444.2 143.8 444.5 144.1 444.8 144.1 445.1 143.6 445.4 143.9 445.7 144.0 446.1 143.8 446.4 144.1 446.7 144.1 447.0 144.1 447.3 144.1 447.6 143.9 448.0 144.2 448.3 144.3 448.6 143.8 448.9 144.2 449.2 144.2 449.6 144.3 449.9 144.2 450.2 144.4 450.5 144.1 450.8 144.2 451.1 144.0 451.5 144.2 451.8 144.0 452.1 144.0 452.4 143.9 452.7 144.0 453.1 143.9 453.4 144.4 453.7 143.8 454.0 144.4 454.3 144.3 454.6 144.2 455.0 144.1 455.3 144.0 455.6 144.1 455.9 144.1 456.2 143.9 456.5 144.2 456.9 143.9 457.2 144.2 457.5 144.4 457.8 144.1 458.1 144.4 458.5 144.0 458.8 143.8 459.1 143.9 459.4 144.1 459.7 143.9 460.0 144.2 460.4 144.1 460.7 144.1 461.0 144.2 461.3 144.2 461.6 144.4 461.9 144.1 462.3 144.0 462.6 144.1 462.9 144.3 463.2 144.3 463.5 144.2 463.9 144.5 464.2 144.3 464.5 144.1 464.8 144.2 465.1 144.0 465.4 144.1 465.8 144.1 466.1 144.3 466.4 144.1 466.7 143.9 467.0 144.0 467.4 144.1 467.7 144.4 468.0 144.4 468.3 144.0 468.6 144.5 468.9 144.2 469.3 144.2 469.6 144.0 469.9 144.3 470.2 144.2 470.5 144.2 470.8 144.2 471.2 143.9 471.5 144.3 471.8 144.2 472.1 144.5 472.4 144.2 472.8 144.1 473.1 144.0 473.4 144.0 473.7 144.2 474.0 143.9 474.3 144.1 474.7 144.1 475.0 144.2 475.3 144.3 475.6 144.0 475.9 144.4 476.3 144.0 476.6 144.1 476.9 144.4 477.2 144.5 477.5 144.5 477.8 144.2 478.2 144.1 478.5 144.2 478.8 144.2 479.1 144.5 479.4 144.1 479.7 143.9 480.1 144.2 480.4 144.2 480.7 144.2 481.0 143.9 481.3 144.2 481.7 144.0 482.0 144.3 482.3 144.4 482.6 144.5 482.9 144.2 483.2 144.0 483.6 144.5 483.9 144.0 484.2 144.0 484.5 144.2 484.8 143.9 485.1 144.3 485.5 144.3 485.8 144.3 486.1 144.5 486.4 144.3 486.7 143.9 487.1 143.9 487.4 144.0 487.7 144.4 488.0 144.4 488.3 144.4 488.6 144.1 489.0 144.2 489.3 144.0 489.6 144.2 489.9 144.3 490.2 144.4 490.6 144.4 490.9 144.4 491.2 144.1 491.5 144.2 491.8 144.3 492.1 144.4 492.5 144.2 492.8 144.1 493.1 144.4 493.4 144.1 493.7 144.2 494.0 144.4 494.4 144.4 494.7 143.9 495.0 144.4 495.3 143.9 495.6 144.2 496.0 144.2 496.3 144.5 496.6 144.5 496.9 144.0 497.2 144.5 497.5 144.5 497.9 143.9 498.2 143.9 498.5 144.4 498.8 144.1 499.1 144.3 499.5 144.1 499.8 144.2 500.1 144.1 500.4 144.3 500.7 144.1 501.0 144.3 501.4 143.9 501.7 144.2 502.0 144.2 502.3 144.4 502.6 144.2 502.9 144.0 503.3 144.2 503.6 144.1 503.9 144.0 504.2 144.2 504.5 143.9 504.9 144.3 505.2 144.3 505.5 143.9 505.8 144.0 506.1 144.3 506.4 144.1 506.8 143.9 507.1 144.0 507.4 144.0 507.7 144.2 508.0 144.4 508.4 144.2 508.7 144.2 509.0 144.0 509.3 144.0 509.6 144.5 509.9 144.1 510.3 144.1 510.6 144.4 510.9 144.4 511.2 143.9 511.5 143.8 511.8 144.0 512.2 144.4 512.5 144.0 512.8 144.0 513.1 144.4 513.4 143.9 513.8 144.0 514.1 144.1 514.4 144.4 514.7 144.0 515.0 144.2 515.3 144.1 515.7 144.3 516.0 144.0 516.3 143.9 516.6 143.9 516.9 144.4 517.2 144.1 517.6 144.4 517.9 144.1 518.2 143.9 518.5 143.9 518.8 143.8 519.2 144.0 519.5 144.2 519.8 144.4 520.1 144.4 520.4 143.8 520.7 143.9 521.1 144.0 521.4 144.0 521.7 143.7 522.0 144.3 522.3 143.9 522.7 143.7 523.0 144.0 523.3 144.2 523.6 144.1 523.9 144.3 524.2 144.0 524.6 143.7 524.9 143.8 525.2 143.6 525.5 143.5 525.8 144.1 526.1 143.5 526.5 144.1 526.8 144.1 527.1 143.8 527.4 144.1 527.7 143.4 528.1 144.0 528.4 143.8 528.7 143.3 529.0 143.9 529.3 143.7 529.6 143.5 530.0 143.4 530.3 143.1 530.6 143.3 530.9 143.1 531.2 143.4 531.6 143.0 531.9 142.9 532.2 142.7 532.5 142.9 532.8 142.5 533.1 142.4 533.5 142.4 533.8 142.2 534.1 141.7 534.4 141.6 534.7 141.5 535.0 141.1 535.4 140.5 535.7 140.2 536.0 139.3 536.3 139.2 536.6 138.7 537.0 138.1 537.3 137.3" fill="none" stroke="#000000" stroke-width="2.3" stroke-linejoin="round"/>
</g>
<text transform="translate(27.5,405) scale(1,1.035)" text-anchor="middle">5</text><text transform="translate(91.1,405) scale(1,1.035)" text-anchor="middle">10</text><text transform="translate(154.6,405) scale(1,1.035)" text-anchor="middle">15</text><text transform="translate(218.2,405) scale(1,1.035)" text-anchor="middle">20</text><text transform="translate(281.8,405) scale(1,1.035)" text-anchor="middle">25</text><text transform="translate(345.3,405) scale(1,1.035)" text-anchor="middle">30</text><text transform="translate(408.9,405) scale(1,1.035)" text-anchor="middle">35</text><text transform="translate(472.4,405) scale(1,1.035)" text-anchor="middle">40</text><text transform="translate(536.0,405) scale(1,1.035)" text-anchor="middle">45</text>
<text transform="translate(282,425) scale(1,1.035)" text-anchor="middle">2Θ (degree)</text>
<text transform="translate(17.4,183.6) rotate(-90)" text-anchor="middle" style="font-size:15.6px">Intensity (a.u)</text>
<text transform="translate(387.5,130) scale(1,1.035)">0.3DeAl.H-ZSM-5</text>
<text transform="translate(385,226) scale(1,1.035)">0.2DeAl.H-ZSM-5</text>
<text transform="translate(397.2,290.6) scale(1,1.035)">0.1DeAl.H-ZSM-5</text>
<text transform="translate(394.2,366.6) scale(1,1.035)">Parent H-ZSM-5</text>
</svg>
</body></html>
